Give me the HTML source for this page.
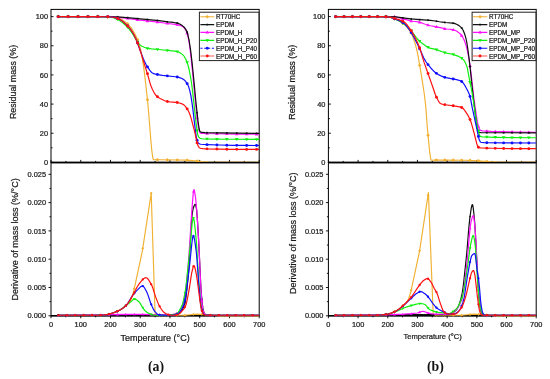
<!DOCTYPE html>
<html><head><meta charset="utf-8"><title>TGA / DTG</title>
<style>html,body{margin:0;padding:0;background:#fff;}svg{display:block;}</style>
</head><body>
<svg width="550" height="379" viewBox="0 0 550 379">
<rect width="550" height="379" fill="#fff"/>
<clipPath id="ctL"><rect x="51.00" y="9.40" width="208.20" height="153.00"/></clipPath>
<clipPath id="cbL"><rect x="51.00" y="162.40" width="208.20" height="154.90"/></clipPath>
<rect x="51.00" y="9.40" width="208.20" height="153.00" fill="none" stroke="#000" stroke-width="1"/>
<rect x="51.00" y="162.40" width="208.20" height="153.40" fill="none" stroke="#000" stroke-width="1"/>
<line x1="51.00" y1="162.50" x2="259.20" y2="162.50" stroke="#000" stroke-width="1.4"/>
<line x1="51.00" y1="315.80" x2="259.20" y2="315.80" stroke="#000" stroke-width="1.4"/>
<line x1="51.00" y1="162.40" x2="53.50" y2="162.40" stroke="#000" stroke-width="0.9"/>
<line x1="51.00" y1="147.82" x2="52.50" y2="147.82" stroke="#000" stroke-width="0.9"/>
<line x1="51.00" y1="133.24" x2="53.50" y2="133.24" stroke="#000" stroke-width="0.9"/>
<line x1="51.00" y1="118.66" x2="52.50" y2="118.66" stroke="#000" stroke-width="0.9"/>
<line x1="51.00" y1="104.08" x2="53.50" y2="104.08" stroke="#000" stroke-width="0.9"/>
<line x1="51.00" y1="89.50" x2="52.50" y2="89.50" stroke="#000" stroke-width="0.9"/>
<line x1="51.00" y1="74.92" x2="53.50" y2="74.92" stroke="#000" stroke-width="0.9"/>
<line x1="51.00" y1="60.34" x2="52.50" y2="60.34" stroke="#000" stroke-width="0.9"/>
<line x1="51.00" y1="45.76" x2="53.50" y2="45.76" stroke="#000" stroke-width="0.9"/>
<line x1="51.00" y1="31.18" x2="52.50" y2="31.18" stroke="#000" stroke-width="0.9"/>
<line x1="51.00" y1="16.60" x2="53.50" y2="16.60" stroke="#000" stroke-width="0.9"/>
<line x1="51.00" y1="162.40" x2="51.00" y2="159.90" stroke="#000" stroke-width="0.9"/>
<line x1="65.87" y1="162.40" x2="65.87" y2="160.90" stroke="#000" stroke-width="0.9"/>
<line x1="80.74" y1="162.40" x2="80.74" y2="159.90" stroke="#000" stroke-width="0.9"/>
<line x1="95.61" y1="162.40" x2="95.61" y2="160.90" stroke="#000" stroke-width="0.9"/>
<line x1="110.49" y1="162.40" x2="110.49" y2="159.90" stroke="#000" stroke-width="0.9"/>
<line x1="125.36" y1="162.40" x2="125.36" y2="160.90" stroke="#000" stroke-width="0.9"/>
<line x1="140.23" y1="162.40" x2="140.23" y2="159.90" stroke="#000" stroke-width="0.9"/>
<line x1="155.10" y1="162.40" x2="155.10" y2="160.90" stroke="#000" stroke-width="0.9"/>
<line x1="169.97" y1="162.40" x2="169.97" y2="159.90" stroke="#000" stroke-width="0.9"/>
<line x1="184.84" y1="162.40" x2="184.84" y2="160.90" stroke="#000" stroke-width="0.9"/>
<line x1="199.71" y1="162.40" x2="199.71" y2="159.90" stroke="#000" stroke-width="0.9"/>
<line x1="214.59" y1="162.40" x2="214.59" y2="160.90" stroke="#000" stroke-width="0.9"/>
<line x1="229.46" y1="162.40" x2="229.46" y2="159.90" stroke="#000" stroke-width="0.9"/>
<line x1="244.33" y1="162.40" x2="244.33" y2="160.90" stroke="#000" stroke-width="0.9"/>
<line x1="259.20" y1="162.40" x2="259.20" y2="159.90" stroke="#000" stroke-width="0.9"/>
<line x1="51.00" y1="315.80" x2="48.50" y2="315.80" stroke="#000" stroke-width="0.9"/>
<line x1="51.00" y1="301.65" x2="49.50" y2="301.65" stroke="#000" stroke-width="0.9"/>
<line x1="51.00" y1="287.50" x2="48.50" y2="287.50" stroke="#000" stroke-width="0.9"/>
<line x1="51.00" y1="273.35" x2="49.50" y2="273.35" stroke="#000" stroke-width="0.9"/>
<line x1="51.00" y1="259.20" x2="48.50" y2="259.20" stroke="#000" stroke-width="0.9"/>
<line x1="51.00" y1="245.05" x2="49.50" y2="245.05" stroke="#000" stroke-width="0.9"/>
<line x1="51.00" y1="230.90" x2="48.50" y2="230.90" stroke="#000" stroke-width="0.9"/>
<line x1="51.00" y1="216.75" x2="49.50" y2="216.75" stroke="#000" stroke-width="0.9"/>
<line x1="51.00" y1="202.60" x2="48.50" y2="202.60" stroke="#000" stroke-width="0.9"/>
<line x1="51.00" y1="188.45" x2="49.50" y2="188.45" stroke="#000" stroke-width="0.9"/>
<line x1="51.00" y1="174.30" x2="48.50" y2="174.30" stroke="#000" stroke-width="0.9"/>
<line x1="51.00" y1="315.80" x2="51.00" y2="318.30" stroke="#000" stroke-width="0.9"/>
<line x1="65.87" y1="315.80" x2="65.87" y2="317.30" stroke="#000" stroke-width="0.9"/>
<line x1="80.74" y1="315.80" x2="80.74" y2="318.30" stroke="#000" stroke-width="0.9"/>
<line x1="95.61" y1="315.80" x2="95.61" y2="317.30" stroke="#000" stroke-width="0.9"/>
<line x1="110.49" y1="315.80" x2="110.49" y2="318.30" stroke="#000" stroke-width="0.9"/>
<line x1="125.36" y1="315.80" x2="125.36" y2="317.30" stroke="#000" stroke-width="0.9"/>
<line x1="140.23" y1="315.80" x2="140.23" y2="318.30" stroke="#000" stroke-width="0.9"/>
<line x1="155.10" y1="315.80" x2="155.10" y2="317.30" stroke="#000" stroke-width="0.9"/>
<line x1="169.97" y1="315.80" x2="169.97" y2="318.30" stroke="#000" stroke-width="0.9"/>
<line x1="184.84" y1="315.80" x2="184.84" y2="317.30" stroke="#000" stroke-width="0.9"/>
<line x1="199.71" y1="315.80" x2="199.71" y2="318.30" stroke="#000" stroke-width="0.9"/>
<line x1="214.59" y1="315.80" x2="214.59" y2="317.30" stroke="#000" stroke-width="0.9"/>
<line x1="229.46" y1="315.80" x2="229.46" y2="318.30" stroke="#000" stroke-width="0.9"/>
<line x1="244.33" y1="315.80" x2="244.33" y2="317.30" stroke="#000" stroke-width="0.9"/>
<line x1="259.20" y1="315.80" x2="259.20" y2="318.30" stroke="#000" stroke-width="0.9"/>
<text x="48.00" y="165.00" text-anchor="end" font-size="7.4" fill="#1a1a1a" font-family="'Liberation Sans', Arial, sans-serif" stroke="#1a1a1a" stroke-width="0.22">0</text>
<text x="48.00" y="135.84" text-anchor="end" font-size="7.4" fill="#1a1a1a" font-family="'Liberation Sans', Arial, sans-serif" stroke="#1a1a1a" stroke-width="0.22">20</text>
<text x="48.00" y="106.68" text-anchor="end" font-size="7.4" fill="#1a1a1a" font-family="'Liberation Sans', Arial, sans-serif" stroke="#1a1a1a" stroke-width="0.22">40</text>
<text x="48.00" y="77.52" text-anchor="end" font-size="7.4" fill="#1a1a1a" font-family="'Liberation Sans', Arial, sans-serif" stroke="#1a1a1a" stroke-width="0.22">60</text>
<text x="48.00" y="48.36" text-anchor="end" font-size="7.4" fill="#1a1a1a" font-family="'Liberation Sans', Arial, sans-serif" stroke="#1a1a1a" stroke-width="0.22">80</text>
<text x="48.00" y="19.20" text-anchor="end" font-size="7.4" fill="#1a1a1a" font-family="'Liberation Sans', Arial, sans-serif" stroke="#1a1a1a" stroke-width="0.22">100</text>
<text x="46.00" y="318.40" text-anchor="end" font-size="7.4" fill="#1a1a1a" font-family="'Liberation Sans', Arial, sans-serif" stroke="#1a1a1a" stroke-width="0.22">0.000</text>
<text x="46.00" y="290.10" text-anchor="end" font-size="7.4" fill="#1a1a1a" font-family="'Liberation Sans', Arial, sans-serif" stroke="#1a1a1a" stroke-width="0.22">0.005</text>
<text x="46.00" y="261.80" text-anchor="end" font-size="7.4" fill="#1a1a1a" font-family="'Liberation Sans', Arial, sans-serif" stroke="#1a1a1a" stroke-width="0.22">0.010</text>
<text x="46.00" y="233.50" text-anchor="end" font-size="7.4" fill="#1a1a1a" font-family="'Liberation Sans', Arial, sans-serif" stroke="#1a1a1a" stroke-width="0.22">0.015</text>
<text x="46.00" y="205.20" text-anchor="end" font-size="7.4" fill="#1a1a1a" font-family="'Liberation Sans', Arial, sans-serif" stroke="#1a1a1a" stroke-width="0.22">0.020</text>
<text x="46.00" y="176.90" text-anchor="end" font-size="7.4" fill="#1a1a1a" font-family="'Liberation Sans', Arial, sans-serif" stroke="#1a1a1a" stroke-width="0.22">0.025</text>
<text x="51.00" y="326.90" text-anchor="middle" font-size="7.4" fill="#1a1a1a" font-family="'Liberation Sans', Arial, sans-serif" stroke="#1a1a1a" stroke-width="0.22">0</text>
<text x="80.74" y="326.90" text-anchor="middle" font-size="7.4" fill="#1a1a1a" font-family="'Liberation Sans', Arial, sans-serif" stroke="#1a1a1a" stroke-width="0.22">100</text>
<text x="110.49" y="326.90" text-anchor="middle" font-size="7.4" fill="#1a1a1a" font-family="'Liberation Sans', Arial, sans-serif" stroke="#1a1a1a" stroke-width="0.22">200</text>
<text x="140.23" y="326.90" text-anchor="middle" font-size="7.4" fill="#1a1a1a" font-family="'Liberation Sans', Arial, sans-serif" stroke="#1a1a1a" stroke-width="0.22">300</text>
<text x="169.97" y="326.90" text-anchor="middle" font-size="7.4" fill="#1a1a1a" font-family="'Liberation Sans', Arial, sans-serif" stroke="#1a1a1a" stroke-width="0.22">400</text>
<text x="199.71" y="326.90" text-anchor="middle" font-size="7.4" fill="#1a1a1a" font-family="'Liberation Sans', Arial, sans-serif" stroke="#1a1a1a" stroke-width="0.22">500</text>
<text x="229.46" y="326.90" text-anchor="middle" font-size="7.4" fill="#1a1a1a" font-family="'Liberation Sans', Arial, sans-serif" stroke="#1a1a1a" stroke-width="0.22">600</text>
<text x="259.20" y="326.90" text-anchor="middle" font-size="7.4" fill="#1a1a1a" font-family="'Liberation Sans', Arial, sans-serif" stroke="#1a1a1a" stroke-width="0.22">700</text>
<g clip-path="url(#ctL)"><path d="M58.44,16.60 96.64,16.60 105.54,16.66 111.57,16.79 113.58,16.99 115.88,17.35 118.46,17.90 119.90,18.43 121.91,19.51 124.21,21.10 127.37,23.64 128.80,25.03 130.81,27.42 132.82,30.20 134.55,33.05 135.98,35.89 137.42,39.22 138.86,43.23 140.01,47.11 140.87,50.66 141.73,55.05 142.88,61.90 143.74,67.66 144.89,76.67 147.76,102.47 148.62,112.23 150.92,141.26 151.78,150.32 152.64,156.77 152.93,158.16 153.22,159.12 153.50,159.59 155.23,159.71 159.54,159.80 178.49,159.96 185.67,160.10 192.57,160.66 205.20,161.96 208.08,162.16 213.25,162.34 217.27,162.40 259.20,162.40" fill="none" stroke="#F0B030" stroke-width="1.15" stroke-linejoin="round"/>
<path d="M58.20,14.80L60.00,16.60L58.20,18.40L56.40,16.60Z" fill="#F0B030"/>
<path d="M68.12,14.80L69.92,16.60L68.12,18.40L66.32,16.60Z" fill="#F0B030"/>
<path d="M78.04,14.80L79.84,16.60L78.04,18.40L76.24,16.60Z" fill="#F0B030"/>
<path d="M87.96,14.80L89.76,16.60L87.96,18.40L86.16,16.60Z" fill="#F0B030"/>
<path d="M97.87,14.80L99.67,16.60L97.87,18.40L96.07,16.60Z" fill="#F0B030"/>
<path d="M107.79,14.90L109.59,16.70L107.79,18.50L105.99,16.70Z" fill="#F0B030"/>
<path d="M117.71,15.92L119.51,17.72L117.71,19.52L115.91,17.72Z" fill="#F0B030"/>
<path d="M127.63,22.08L129.43,23.88L127.63,25.68L125.83,23.88Z" fill="#F0B030"/>
<path d="M137.55,37.76L139.35,39.56L137.55,41.36L135.75,39.56Z" fill="#F0B030"/>
<path d="M147.47,97.84L149.27,99.64L147.47,101.44L145.67,99.64Z" fill="#F0B030"/>
<path d="M157.39,157.96L159.19,159.76L157.39,161.56L155.59,159.76Z" fill="#F0B030"/>
<path d="M167.31,158.08L169.11,159.88L167.31,161.68L165.51,159.88Z" fill="#F0B030"/>
<path d="M177.23,158.15L179.03,159.95L177.23,161.75L175.43,159.95Z" fill="#F0B030"/>
<path d="M187.15,158.39L188.95,160.19L187.15,161.99L185.35,160.19Z" fill="#F0B030"/>
<path d="M197.07,159.32L198.87,161.12L197.07,162.92L195.27,161.12Z" fill="#F0B030"/>
<path d="M206.99,161.02L208.07,162.10L206.99,163.18L205.91,162.10Z" fill="#F0B030"/>
<path d="M216.91,161.32L217.99,162.40L216.91,163.48L215.83,162.40Z" fill="#F0B030"/>
<path d="M226.82,161.32L227.90,162.40L226.82,163.48L225.74,162.40Z" fill="#F0B030"/>
<path d="M236.74,161.32L237.82,162.40L236.74,163.48L235.66,162.40Z" fill="#F0B030"/>
<path d="M246.66,161.32L247.74,162.40L246.66,163.48L245.58,162.40Z" fill="#F0B030"/>
<path d="M256.58,161.32L257.66,162.40L256.58,163.48L255.50,162.40Z" fill="#F0B030"/>
<path d="M58.44,16.60 98.93,16.62 110.71,16.90 116.17,17.22 127.65,18.41 137.71,19.94 154.08,21.70 167.87,23.49 175.05,24.28 177.34,24.66 179.35,25.16 181.08,25.78 182.80,26.65 183.37,27.03 183.95,27.55 184.81,28.62 185.96,30.55 186.82,32.37 187.40,34.16 187.97,36.46 188.54,39.12 189.12,42.45 190.27,50.68 191.42,60.73 192.57,72.15 195.15,100.05 196.87,116.44 198.31,127.03 198.88,129.83 199.46,131.80 199.75,132.48 200.03,132.81 200.32,132.96 201.47,133.32 205.49,133.52 237.66,134.05 259.20,134.26" fill="none" stroke="#FF10FF" stroke-width="1.2" stroke-linejoin="round"/>
<path d="M58.20,14.80L60.00,17.80L56.40,17.80Z" fill="#FF10FF"/>
<path d="M68.12,14.80L69.92,17.80L66.32,17.80Z" fill="#FF10FF"/>
<path d="M78.04,14.80L79.84,17.80L76.24,17.80Z" fill="#FF10FF"/>
<path d="M87.96,14.80L89.76,17.80L86.16,17.80Z" fill="#FF10FF"/>
<path d="M97.87,14.81L99.67,17.81L96.07,17.81Z" fill="#FF10FF"/>
<path d="M107.79,15.01L109.59,18.01L105.99,18.01Z" fill="#FF10FF"/>
<path d="M117.71,15.55L119.51,18.55L115.91,18.55Z" fill="#FF10FF"/>
<path d="M127.63,16.61L129.43,19.61L125.83,19.61Z" fill="#FF10FF"/>
<path d="M137.55,18.12L139.35,21.12L135.75,21.12Z" fill="#FF10FF"/>
<path d="M147.47,19.15L149.27,22.15L145.67,22.15Z" fill="#FF10FF"/>
<path d="M157.39,20.29L159.19,23.29L155.59,23.29Z" fill="#FF10FF"/>
<path d="M167.31,21.62L169.11,24.62L165.51,24.62Z" fill="#FF10FF"/>
<path d="M177.23,22.84L179.03,25.84L175.43,25.84Z" fill="#FF10FF"/>
<path d="M187.15,31.52L188.95,34.52L185.35,34.52Z" fill="#FF10FF"/>
<path d="M197.07,116.24L198.87,119.24L195.27,119.24Z" fill="#FF10FF"/>
<path d="M206.99,131.76L208.79,134.76L205.19,134.76Z" fill="#FF10FF"/>
<path d="M216.91,131.92L218.71,134.92L215.11,134.92Z" fill="#FF10FF"/>
<path d="M226.82,132.09L228.62,135.09L225.02,135.09Z" fill="#FF10FF"/>
<path d="M236.74,132.24L238.54,135.24L234.94,135.24Z" fill="#FF10FF"/>
<path d="M246.66,132.36L248.46,135.36L244.86,135.36Z" fill="#FF10FF"/>
<path d="M256.58,132.45L258.38,135.45L254.78,135.45Z" fill="#FF10FF"/>
<path d="M58.44,16.60 102.09,16.63 112.72,16.80 120.76,17.19 129.95,17.85 150.92,19.83 158.96,20.68 167.87,21.88 173.61,22.47 175.91,22.79 177.34,23.07 178.20,23.32 180.22,24.26 182.23,25.59 183.95,27.01 185.10,28.35 186.25,30.16 186.82,31.32 187.11,32.09 187.68,34.04 188.54,37.60 189.12,40.52 190.56,49.78 191.99,61.89 193.43,75.84 196.01,102.81 198.02,120.99 198.60,125.35 199.17,128.53 199.75,130.97 200.03,131.51 200.90,132.15 201.76,132.47 205.20,132.65 237.66,133.18 259.20,133.39" fill="none" stroke="#111111" stroke-width="1.2" stroke-linejoin="round"/>
<rect x="57.35" y="15.75" width="1.70" height="1.70" fill="#111111"/>
<rect x="67.27" y="15.75" width="1.70" height="1.70" fill="#111111"/>
<rect x="77.19" y="15.75" width="1.70" height="1.70" fill="#111111"/>
<rect x="87.11" y="15.75" width="1.70" height="1.70" fill="#111111"/>
<rect x="97.02" y="15.75" width="1.70" height="1.70" fill="#111111"/>
<rect x="106.94" y="15.85" width="1.70" height="1.70" fill="#111111"/>
<rect x="116.86" y="16.16" width="1.70" height="1.70" fill="#111111"/>
<rect x="126.78" y="16.81" width="1.70" height="1.70" fill="#111111"/>
<rect x="136.70" y="17.76" width="1.70" height="1.70" fill="#111111"/>
<rect x="146.62" y="18.65" width="1.70" height="1.70" fill="#111111"/>
<rect x="156.54" y="19.65" width="1.70" height="1.70" fill="#111111"/>
<rect x="166.46" y="20.96" width="1.70" height="1.70" fill="#111111"/>
<rect x="176.38" y="22.19" width="1.70" height="1.70" fill="#111111"/>
<rect x="186.30" y="31.36" width="1.70" height="1.70" fill="#111111"/>
<rect x="196.22" y="111.84" width="1.70" height="1.70" fill="#111111"/>
<rect x="206.14" y="131.84" width="1.70" height="1.70" fill="#111111"/>
<rect x="216.06" y="131.99" width="1.70" height="1.70" fill="#111111"/>
<rect x="225.97" y="132.16" width="1.70" height="1.70" fill="#111111"/>
<rect x="235.89" y="132.31" width="1.70" height="1.70" fill="#111111"/>
<rect x="245.81" y="132.44" width="1.70" height="1.70" fill="#111111"/>
<rect x="255.73" y="132.52" width="1.70" height="1.70" fill="#111111"/>
<path d="M58.44,16.60 99.22,16.64 104.68,16.82 110.13,17.16 111.57,17.32 113.01,17.67 114.73,18.27 116.74,19.12 118.75,20.07 120.19,20.92 121.62,21.92 123.35,23.30 127.08,26.75 128.23,27.96 129.38,29.34 131.96,32.88 133.40,35.11 135.98,39.63 138.57,43.44 139.14,44.12 140.01,44.90 140.87,45.52 142.02,46.20 145.46,47.75 146.61,48.14 147.76,48.40 151.49,48.90 158.67,49.52 174.47,51.14 176.48,51.46 177.92,51.81 179.07,52.27 180.22,52.90 181.94,54.13 183.37,55.41 184.24,56.50 185.10,57.92 186.25,60.29 187.40,63.14 188.26,65.99 189.12,69.59 190.56,77.00 191.70,84.17 192.57,91.41 195.73,120.35 197.16,131.01 197.74,134.44 198.02,135.62 198.60,136.80 199.17,137.57 199.75,138.07 200.32,138.31 201.47,138.63 202.62,138.78 214.68,139.05 227.61,139.23 259.20,139.36" fill="none" stroke="#10F010" stroke-width="1.2" stroke-linejoin="round"/>
<path d="M58.20,18.40L60.00,15.40L56.40,15.40Z" fill="#10F010"/>
<path d="M68.12,18.40L69.92,15.40L66.32,15.40Z" fill="#10F010"/>
<path d="M78.04,18.40L79.84,15.40L76.24,15.40Z" fill="#10F010"/>
<path d="M87.96,18.40L89.76,15.40L86.16,15.40Z" fill="#10F010"/>
<path d="M97.87,18.41L99.67,15.41L96.07,15.41Z" fill="#10F010"/>
<path d="M107.79,18.79L109.59,15.79L105.99,15.79Z" fill="#10F010"/>
<path d="M117.71,21.37L119.51,18.37L115.91,18.37Z" fill="#10F010"/>
<path d="M127.63,29.11L129.43,26.11L125.83,26.11Z" fill="#10F010"/>
<path d="M137.55,43.82L139.35,40.82L135.75,40.82Z" fill="#10F010"/>
<path d="M147.47,50.15L149.27,47.15L145.67,47.15Z" fill="#10F010"/>
<path d="M157.39,51.20L159.19,48.20L155.59,48.20Z" fill="#10F010"/>
<path d="M167.31,52.19L169.11,49.19L165.51,49.19Z" fill="#10F010"/>
<path d="M177.23,53.42L179.03,50.42L175.43,50.42Z" fill="#10F010"/>
<path d="M187.15,64.28L188.95,61.28L185.35,61.28Z" fill="#10F010"/>
<path d="M197.07,132.16L198.87,129.16L195.27,129.16Z" fill="#10F010"/>
<path d="M206.99,140.69L208.79,137.69L205.19,137.69Z" fill="#10F010"/>
<path d="M216.91,140.89L218.71,137.89L215.11,137.89Z" fill="#10F010"/>
<path d="M226.82,141.02L228.62,138.02L225.02,138.02Z" fill="#10F010"/>
<path d="M236.74,141.11L238.54,138.11L234.94,138.11Z" fill="#10F010"/>
<path d="M246.66,141.15L248.46,138.15L244.86,138.15Z" fill="#10F010"/>
<path d="M256.58,141.16L258.38,138.16L254.78,138.16Z" fill="#10F010"/>
<path d="M58.44,16.60 98.07,16.61 105.25,16.72 111.28,16.95 113.01,17.21 114.73,17.62 117.32,18.43 119.04,19.10 120.47,19.88 121.91,20.84 123.63,22.18 125.36,23.69 127.94,26.15 129.67,28.16 131.96,31.37 133.69,34.26 135.41,37.77 136.85,41.12 139.43,48.47 141.44,53.88 143.16,58.33 144.31,61.00 146.04,64.44 147.47,66.89 150.06,70.69 151.49,72.36 152.36,72.99 153.79,73.61 155.51,74.14 157.81,74.64 162.41,75.33 175.33,76.77 177.63,77.15 179.64,77.66 181.94,78.55 183.09,79.14 183.95,79.69 184.52,80.18 185.39,81.09 186.82,83.10 187.97,85.13 188.83,87.32 189.69,90.37 190.84,95.44 191.42,98.80 192.57,106.92 195.44,130.92 196.30,137.09 196.87,139.56 197.74,142.23 198.02,142.77 198.31,143.08 198.88,143.51 200.03,144.04 201.18,144.26 203.77,144.52 207.21,144.66 219.85,145.02 232.78,145.28 245.99,145.44 259.20,145.49" fill="none" stroke="#1010FF" stroke-width="1.2" stroke-linejoin="round"/>
<circle cx="58.20" cy="16.60" r="1.45" fill="#1010FF"/>
<circle cx="68.12" cy="16.60" r="1.45" fill="#1010FF"/>
<circle cx="78.04" cy="16.60" r="1.45" fill="#1010FF"/>
<circle cx="87.96" cy="16.60" r="1.45" fill="#1010FF"/>
<circle cx="97.87" cy="16.61" r="1.45" fill="#1010FF"/>
<circle cx="107.79" cy="16.79" r="1.45" fill="#1010FF"/>
<circle cx="117.71" cy="18.57" r="1.45" fill="#1010FF"/>
<circle cx="127.63" cy="25.83" r="1.45" fill="#1010FF"/>
<circle cx="137.55" cy="43.03" r="1.45" fill="#1010FF"/>
<circle cx="147.47" cy="66.89" r="1.45" fill="#1010FF"/>
<circle cx="157.39" cy="74.55" r="1.45" fill="#1010FF"/>
<circle cx="167.31" cy="75.91" r="1.45" fill="#1010FF"/>
<circle cx="177.23" cy="77.07" r="1.45" fill="#1010FF"/>
<circle cx="187.15" cy="83.64" r="1.45" fill="#1010FF"/>
<circle cx="197.07" cy="140.26" r="1.45" fill="#1010FF"/>
<circle cx="206.99" cy="144.66" r="1.45" fill="#1010FF"/>
<circle cx="216.91" cy="144.95" r="1.45" fill="#1010FF"/>
<circle cx="226.82" cy="145.18" r="1.45" fill="#1010FF"/>
<circle cx="236.74" cy="145.34" r="1.45" fill="#1010FF"/>
<circle cx="246.66" cy="145.44" r="1.45" fill="#1010FF"/>
<circle cx="256.58" cy="145.49" r="1.45" fill="#1010FF"/>
<path d="M58.44,16.60 98.36,16.61 106.11,16.74 111.57,16.98 113.29,17.26 115.30,17.78 118.18,18.73 119.33,19.25 120.76,20.09 122.20,21.11 123.92,22.52 125.64,24.08 127.65,26.00 129.09,27.56 130.53,29.36 131.96,31.39 133.11,33.22 133.97,34.80 135.12,37.15 136.56,40.39 138.28,44.90 140.58,51.70 143.16,60.22 147.47,73.81 149.77,82.16 150.63,84.97 151.21,86.52 152.36,89.15 153.50,91.52 154.37,93.09 155.23,94.45 156.09,95.55 156.95,96.39 157.81,97.08 158.96,97.85 160.11,98.50 164.71,100.73 166.14,101.25 167.87,101.60 170.16,101.88 175.91,102.36 177.63,102.61 179.35,102.97 181.36,103.61 183.37,104.53 184.24,105.16 185.10,106.06 186.53,107.98 187.97,110.22 189.12,112.55 190.27,115.46 191.42,119.39 194.58,131.45 195.44,135.09 196.59,140.87 197.16,143.24 198.31,146.31 198.88,147.30 199.46,147.76 200.32,148.22 201.18,148.50 203.19,148.72 205.49,148.84 231.05,149.28 259.20,149.42" fill="none" stroke="#FF1010" stroke-width="1.2" stroke-linejoin="round"/>
<circle cx="58.20" cy="16.60" r="1.45" fill="#FF1010"/>
<circle cx="68.12" cy="16.60" r="1.45" fill="#FF1010"/>
<circle cx="78.04" cy="16.60" r="1.45" fill="#FF1010"/>
<circle cx="87.96" cy="16.60" r="1.45" fill="#FF1010"/>
<circle cx="97.87" cy="16.61" r="1.45" fill="#FF1010"/>
<circle cx="107.79" cy="16.79" r="1.45" fill="#FF1010"/>
<circle cx="117.71" cy="18.57" r="1.45" fill="#FF1010"/>
<circle cx="127.63" cy="25.98" r="1.45" fill="#FF1010"/>
<circle cx="137.55" cy="42.90" r="1.45" fill="#FF1010"/>
<circle cx="147.47" cy="73.81" r="1.45" fill="#FF1010"/>
<circle cx="157.39" cy="96.75" r="1.45" fill="#FF1010"/>
<circle cx="167.31" cy="101.51" r="1.45" fill="#FF1010"/>
<circle cx="177.23" cy="102.54" r="1.45" fill="#FF1010"/>
<circle cx="187.15" cy="108.89" r="1.45" fill="#FF1010"/>
<circle cx="197.07" cy="142.91" r="1.45" fill="#FF1010"/>
<circle cx="206.99" cy="148.87" r="1.45" fill="#FF1010"/>
<circle cx="216.91" cy="149.07" r="1.45" fill="#FF1010"/>
<circle cx="226.82" cy="149.23" r="1.45" fill="#FF1010"/>
<circle cx="236.74" cy="149.33" r="1.45" fill="#FF1010"/>
<circle cx="246.66" cy="149.40" r="1.45" fill="#FF1010"/>
<circle cx="256.58" cy="149.42" r="1.45" fill="#FF1010"/></g>
<g clip-path="url(#cbL)"><path d="M58.44,315.23 96.92,315.23 103.53,314.99 105.54,314.86 106.98,314.65 109.56,314.02 113.87,312.70 116.74,311.55 119.61,310.15 122.20,308.53 124.78,306.58 127.65,304.15 128.52,303.29 129.38,302.27 130.24,300.96 131.39,298.46 132.54,295.22 133.69,291.46 142.30,251.31 151.21,193.15 154.94,309.10 155.23,314.15 158.10,315.23 184.81,315.23 196.87,314.11 205.78,314.68 217.55,315.80 259.20,315.80" fill="none" stroke="#F0B030" stroke-width="1.15" stroke-linejoin="round"/>
<path d="M58.29,313.79L59.73,315.23L58.29,316.67L56.85,315.23Z" fill="#F0B030"/>
<path d="M66.73,313.79L68.17,315.23L66.73,316.67L65.29,315.23Z" fill="#F0B030"/>
<path d="M75.18,313.79L76.62,315.23L75.18,316.67L73.74,315.23Z" fill="#F0B030"/>
<path d="M83.63,313.79L85.07,315.23L83.63,316.67L82.19,315.23Z" fill="#F0B030"/>
<path d="M92.07,313.79L93.51,315.23L92.07,316.67L90.63,315.23Z" fill="#F0B030"/>
<path d="M100.52,313.70L101.96,315.14L100.52,316.58L99.08,315.14Z" fill="#F0B030"/>
<path d="M108.97,312.75L110.41,314.19L108.97,315.63L107.53,314.19Z" fill="#F0B030"/>
<path d="M117.42,309.81L118.86,311.25L117.42,312.69L115.98,311.25Z" fill="#F0B030"/>
<path d="M125.86,304.25L127.30,305.69L125.86,307.13L124.42,305.69Z" fill="#F0B030"/>
<path d="M134.31,287.11L135.75,288.55L134.31,289.99L132.87,288.55Z" fill="#F0B030"/>
<path d="M142.76,246.92L144.20,248.36L142.76,249.80L141.32,248.36Z" fill="#F0B030"/>
<path d="M151.20,191.73L152.64,193.17L151.20,194.61L149.76,193.17Z" fill="#F0B030"/>
<path d="M159.65,313.79L161.09,315.23L159.65,316.67L158.21,315.23Z" fill="#F0B030"/>
<path d="M168.10,313.79L169.54,315.23L168.10,316.67L166.66,315.23Z" fill="#F0B030"/>
<path d="M176.54,313.79L177.98,315.23L176.54,316.67L175.10,315.23Z" fill="#F0B030"/>
<path d="M184.99,313.78L186.43,315.22L184.99,316.66L183.55,315.22Z" fill="#F0B030"/>
<path d="M193.44,312.98L194.88,314.42L193.44,315.86L192.00,314.42Z" fill="#F0B030"/>
<path d="M201.89,312.99L203.33,314.43L201.89,315.87L200.45,314.43Z" fill="#F0B030"/>
<path d="M210.33,313.67L211.77,315.11L210.33,316.55L208.89,315.11Z" fill="#F0B030"/>
<path d="M218.78,314.36L220.22,315.80L218.78,317.24L217.34,315.80Z" fill="#F0B030"/>
<path d="M227.23,314.36L228.67,315.80L227.23,317.24L225.79,315.80Z" fill="#F0B030"/>
<path d="M235.67,314.36L237.11,315.80L235.67,317.24L234.23,315.80Z" fill="#F0B030"/>
<path d="M244.12,314.36L245.56,315.80L244.12,317.24L242.68,315.80Z" fill="#F0B030"/>
<path d="M252.57,314.36L254.01,315.80L252.57,317.24L251.13,315.80Z" fill="#F0B030"/>
<path d="M58.44,315.23 170.45,315.23 173.04,315.02 175.62,314.53 178.78,313.58 179.35,313.32 179.93,312.91 180.79,312.01 181.65,310.78 182.51,309.21 183.66,306.61 184.52,304.29 185.10,302.44 185.39,301.10 185.96,297.53 187.11,287.51 188.54,271.75 189.12,263.19 191.42,223.87 191.99,215.95 192.57,211.62 193.14,208.62 193.43,207.51 193.71,206.68 194.29,205.45 194.86,204.55 195.15,204.33 195.44,204.38 195.73,205.10 196.30,207.98 196.59,209.84 197.16,216.35 198.02,229.54 198.60,239.97 200.90,287.61 201.47,295.11 202.33,303.83 202.91,308.19 203.48,310.97 204.05,312.46 204.63,313.62 205.20,314.40 205.49,314.61 205.78,314.69 208.08,315.05 210.66,315.22 259.20,315.23" fill="none" stroke="#111111" stroke-width="1.2" stroke-linejoin="round"/>
<rect x="57.61" y="314.55" width="1.36" height="1.36" fill="#111111"/>
<rect x="66.05" y="314.55" width="1.36" height="1.36" fill="#111111"/>
<rect x="74.50" y="314.55" width="1.36" height="1.36" fill="#111111"/>
<rect x="82.95" y="314.55" width="1.36" height="1.36" fill="#111111"/>
<rect x="91.39" y="314.55" width="1.36" height="1.36" fill="#111111"/>
<rect x="99.84" y="314.55" width="1.36" height="1.36" fill="#111111"/>
<rect x="108.29" y="314.55" width="1.36" height="1.36" fill="#111111"/>
<rect x="116.74" y="314.55" width="1.36" height="1.36" fill="#111111"/>
<rect x="125.18" y="314.55" width="1.36" height="1.36" fill="#111111"/>
<rect x="133.63" y="314.55" width="1.36" height="1.36" fill="#111111"/>
<rect x="142.08" y="314.55" width="1.36" height="1.36" fill="#111111"/>
<rect x="150.52" y="314.55" width="1.36" height="1.36" fill="#111111"/>
<rect x="158.97" y="314.55" width="1.36" height="1.36" fill="#111111"/>
<rect x="167.42" y="314.55" width="1.36" height="1.36" fill="#111111"/>
<rect x="175.86" y="313.61" width="1.36" height="1.36" fill="#111111"/>
<rect x="184.31" y="302.17" width="1.36" height="1.36" fill="#111111"/>
<rect x="192.76" y="206.80" width="1.36" height="1.36" fill="#111111"/>
<rect x="201.21" y="298.91" width="1.36" height="1.36" fill="#111111"/>
<rect x="209.65" y="314.53" width="1.36" height="1.36" fill="#111111"/>
<rect x="218.10" y="314.55" width="1.36" height="1.36" fill="#111111"/>
<rect x="226.55" y="314.55" width="1.36" height="1.36" fill="#111111"/>
<rect x="234.99" y="314.55" width="1.36" height="1.36" fill="#111111"/>
<rect x="243.44" y="314.55" width="1.36" height="1.36" fill="#111111"/>
<rect x="251.89" y="314.55" width="1.36" height="1.36" fill="#111111"/>
<path d="M58.44,315.23 95.77,314.86 126.79,314.39 141.73,314.39 154.37,314.67 170.45,314.66 172.75,314.42 175.33,313.76 177.92,312.68 179.35,311.92 179.93,311.47 180.50,310.68 181.36,308.88 182.23,306.43 183.09,303.43 184.24,298.73 185.10,294.67 185.96,288.54 187.40,274.64 188.26,264.57 189.98,239.91 191.70,212.08 192.85,197.60 193.43,191.72 193.71,190.04 194.00,189.60 194.29,190.23 194.58,191.55 195.44,197.07 195.73,199.38 196.59,208.22 197.16,215.94 198.60,240.13 199.46,257.21 200.61,282.99 201.18,292.92 202.04,302.84 202.62,307.93 202.91,309.76 203.19,311.01 204.05,312.95 204.92,314.20 205.49,314.62 207.50,314.98 210.09,315.20 259.20,315.23" fill="none" stroke="#FF10FF" stroke-width="1.2" stroke-linejoin="round"/>
<path d="M58.29,313.80L59.73,316.20L56.85,316.20Z" fill="#FF10FF"/>
<path d="M66.73,313.73L68.17,316.13L65.29,316.13Z" fill="#FF10FF"/>
<path d="M75.18,313.65L76.62,316.05L73.74,316.05Z" fill="#FF10FF"/>
<path d="M83.63,313.56L85.07,315.96L82.19,315.96Z" fill="#FF10FF"/>
<path d="M92.07,313.46L93.51,315.86L90.63,315.86Z" fill="#FF10FF"/>
<path d="M100.52,313.36L101.96,315.76L99.08,315.76Z" fill="#FF10FF"/>
<path d="M108.97,313.25L110.41,315.65L107.53,315.65Z" fill="#FF10FF"/>
<path d="M117.42,313.10L118.86,315.50L115.98,315.50Z" fill="#FF10FF"/>
<path d="M125.86,312.96L127.30,315.36L124.42,315.36Z" fill="#FF10FF"/>
<path d="M134.31,312.94L135.75,315.34L132.87,315.34Z" fill="#FF10FF"/>
<path d="M142.76,312.97L144.20,315.37L141.32,315.37Z" fill="#FF10FF"/>
<path d="M151.20,313.18L152.64,315.58L149.76,315.58Z" fill="#FF10FF"/>
<path d="M159.65,313.23L161.09,315.63L158.21,315.63Z" fill="#FF10FF"/>
<path d="M168.10,313.23L169.54,315.63L166.66,315.63Z" fill="#FF10FF"/>
<path d="M176.54,311.86L177.98,314.26L175.10,314.26Z" fill="#FF10FF"/>
<path d="M184.99,293.82L186.43,296.22L183.55,296.22Z" fill="#FF10FF"/>
<path d="M193.44,190.19L194.88,192.59L192.00,192.59Z" fill="#FF10FF"/>
<path d="M201.89,299.74L203.33,302.14L200.45,302.14Z" fill="#FF10FF"/>
<path d="M210.33,313.77L211.77,316.17L208.89,316.17Z" fill="#FF10FF"/>
<path d="M218.78,313.79L220.22,316.19L217.34,316.19Z" fill="#FF10FF"/>
<path d="M227.23,313.79L228.67,316.19L225.79,316.19Z" fill="#FF10FF"/>
<path d="M235.67,313.79L237.11,316.19L234.23,316.19Z" fill="#FF10FF"/>
<path d="M244.12,313.79L245.56,316.19L242.68,316.19Z" fill="#FF10FF"/>
<path d="M252.57,313.79L254.01,316.19L251.13,316.19Z" fill="#FF10FF"/>
<path d="M58.44,315.23 97.21,315.22 100.94,315.12 105.25,314.89 107.55,314.54 110.42,313.77 114.44,312.49 117.32,311.29 119.90,309.98 122.20,308.45 126.79,304.96 131.10,301.48 133.11,299.57 133.69,299.18 134.26,299.00 135.12,299.10 136.27,299.62 137.42,300.45 138.86,301.67 140.01,303.16 142.30,306.99 143.74,309.08 144.60,310.20 145.46,311.03 146.90,312.21 148.33,313.13 150.06,313.94 151.78,314.63 152.93,314.96 154.08,315.12 162.12,315.23 167.00,315.17 170.45,314.92 173.90,314.46 176.19,314.03 177.06,313.53 178.20,312.34 179.35,310.62 180.79,307.92 182.23,304.73 182.80,302.94 183.66,299.53 185.10,292.26 185.67,288.35 186.53,281.20 189.41,253.74 191.99,224.83 192.57,220.40 192.85,218.93 193.14,218.08 193.43,217.91 193.71,218.46 194.00,219.64 194.58,223.54 195.15,228.88 196.30,241.12 196.87,249.29 198.60,278.77 200.32,300.46 200.90,305.54 201.18,307.22 202.33,311.72 202.91,313.23 203.19,313.73 203.48,314.04 203.77,314.19 205.49,314.81 206.93,315.11 208.36,315.23 259.20,315.23" fill="none" stroke="#10F010" stroke-width="1.2" stroke-linejoin="round"/>
<path d="M58.29,316.67L59.73,314.27L56.85,314.27Z" fill="#10F010"/>
<path d="M66.73,316.67L68.17,314.27L65.29,314.27Z" fill="#10F010"/>
<path d="M75.18,316.67L76.62,314.27L73.74,314.27Z" fill="#10F010"/>
<path d="M83.63,316.67L85.07,314.27L82.19,314.27Z" fill="#10F010"/>
<path d="M92.07,316.67L93.51,314.27L90.63,314.27Z" fill="#10F010"/>
<path d="M100.52,316.58L101.96,314.18L99.08,314.18Z" fill="#10F010"/>
<path d="M108.97,315.63L110.41,313.23L107.53,313.23Z" fill="#10F010"/>
<path d="M117.42,312.69L118.86,310.29L115.98,310.29Z" fill="#10F010"/>
<path d="M125.86,307.12L127.30,304.72L124.42,304.72Z" fill="#10F010"/>
<path d="M134.31,300.43L135.75,298.03L132.87,298.03Z" fill="#10F010"/>
<path d="M142.76,309.10L144.20,306.70L141.32,306.70Z" fill="#10F010"/>
<path d="M151.20,315.85L152.64,313.45L149.76,313.45Z" fill="#10F010"/>
<path d="M159.65,316.65L161.09,314.25L158.21,314.25Z" fill="#10F010"/>
<path d="M168.10,316.55L169.54,314.15L166.66,314.15Z" fill="#10F010"/>
<path d="M176.54,315.31L177.98,312.91L175.10,312.91Z" fill="#10F010"/>
<path d="M184.99,294.34L186.43,291.94L183.55,291.94Z" fill="#10F010"/>
<path d="M193.44,219.36L194.88,216.96L192.00,216.96Z" fill="#10F010"/>
<path d="M201.89,311.61L203.33,309.21L200.45,309.21Z" fill="#10F010"/>
<path d="M210.33,316.67L211.77,314.27L208.89,314.27Z" fill="#10F010"/>
<path d="M218.78,316.67L220.22,314.27L217.34,314.27Z" fill="#10F010"/>
<path d="M227.23,316.67L228.67,314.27L225.79,314.27Z" fill="#10F010"/>
<path d="M235.67,316.67L237.11,314.27L234.23,314.27Z" fill="#10F010"/>
<path d="M244.12,316.67L245.56,314.27L242.68,314.27Z" fill="#10F010"/>
<path d="M252.57,316.67L254.01,314.27L251.13,314.27Z" fill="#10F010"/>
<path d="M58.44,315.23 96.06,315.23 101.52,315.09 105.25,314.89 106.98,314.65 109.27,314.10 113.58,312.80 117.03,311.43 120.47,309.68 123.06,308.02 124.50,306.91 125.64,305.90 126.51,305.02 127.65,303.49 131.96,296.32 132.82,295.09 134.26,293.32 135.98,291.41 140.29,287.11 141.44,286.31 142.02,286.09 142.59,286.03 142.88,286.10 143.45,286.47 144.31,287.51 145.18,288.96 146.90,292.27 148.05,295.15 150.63,303.00 152.36,307.01 153.50,309.40 154.37,310.88 154.94,311.66 156.38,313.18 157.24,313.97 158.39,314.72 159.25,314.95 164.42,315.17 170.16,315.23 172.17,315.13 174.18,314.85 176.48,314.35 177.92,313.89 178.78,313.25 179.93,311.96 181.08,310.30 182.23,308.36 182.80,307.09 183.66,304.71 184.52,301.76 185.10,299.41 185.67,296.29 186.53,290.36 189.41,266.89 191.99,242.01 192.57,238.17 192.85,236.90 193.14,236.16 193.43,236.01 193.71,236.37 194.00,237.15 194.58,239.75 195.15,243.37 196.30,251.97 196.87,258.21 198.60,282.08 200.03,298.14 200.61,303.52 201.18,307.22 201.76,309.63 202.62,312.53 203.19,313.73 203.48,314.04 203.77,314.19 205.20,314.72 206.64,315.06 208.36,315.23 259.20,315.23" fill="none" stroke="#1010FF" stroke-width="1.2" stroke-linejoin="round"/>
<circle cx="58.29" cy="315.23" r="1.16" fill="#1010FF"/>
<circle cx="66.73" cy="315.23" r="1.16" fill="#1010FF"/>
<circle cx="75.18" cy="315.23" r="1.16" fill="#1010FF"/>
<circle cx="83.63" cy="315.23" r="1.16" fill="#1010FF"/>
<circle cx="92.07" cy="315.23" r="1.16" fill="#1010FF"/>
<circle cx="100.52" cy="315.14" r="1.16" fill="#1010FF"/>
<circle cx="108.97" cy="314.19" r="1.16" fill="#1010FF"/>
<circle cx="117.42" cy="311.25" r="1.16" fill="#1010FF"/>
<circle cx="125.86" cy="305.70" r="1.16" fill="#1010FF"/>
<circle cx="134.31" cy="293.26" r="1.16" fill="#1010FF"/>
<circle cx="142.76" cy="286.06" r="1.16" fill="#1010FF"/>
<circle cx="151.20" cy="304.40" r="1.16" fill="#1010FF"/>
<circle cx="159.65" cy="314.97" r="1.16" fill="#1010FF"/>
<circle cx="168.10" cy="315.23" r="1.16" fill="#1010FF"/>
<circle cx="176.54" cy="314.34" r="1.16" fill="#1010FF"/>
<circle cx="184.99" cy="299.89" r="1.16" fill="#1010FF"/>
<circle cx="193.44" cy="236.02" r="1.16" fill="#1010FF"/>
<circle cx="201.89" cy="310.13" r="1.16" fill="#1010FF"/>
<circle cx="210.33" cy="315.23" r="1.16" fill="#1010FF"/>
<circle cx="218.78" cy="315.23" r="1.16" fill="#1010FF"/>
<circle cx="227.23" cy="315.23" r="1.16" fill="#1010FF"/>
<circle cx="235.67" cy="315.23" r="1.16" fill="#1010FF"/>
<circle cx="244.12" cy="315.23" r="1.16" fill="#1010FF"/>
<circle cx="252.57" cy="315.23" r="1.16" fill="#1010FF"/>
<path d="M58.44,315.23 96.35,315.23 100.08,315.15 104.39,314.94 106.69,314.71 108.99,314.18 113.29,312.89 116.45,311.68 119.61,310.16 122.48,308.43 124.78,306.67 125.93,305.63 126.79,304.71 128.23,302.80 130.24,299.59 133.69,293.66 137.13,287.03 138.57,284.70 140.87,281.58 142.59,279.61 143.45,278.87 144.03,278.48 145.18,277.87 145.75,277.71 146.32,277.77 146.90,278.05 147.47,278.50 148.33,279.48 149.77,281.70 151.78,285.37 152.36,286.68 152.93,288.31 155.51,296.64 158.10,303.14 159.25,305.64 160.11,307.23 161.55,309.51 162.98,311.41 163.84,312.26 165.57,313.51 167.00,314.29 168.15,314.66 170.74,315.09 173.04,315.23 175.33,315.05 177.06,314.74 177.92,314.51 178.78,314.05 179.93,313.16 181.94,311.20 183.09,309.96 183.95,308.82 184.81,307.42 185.39,306.29 185.96,304.79 186.53,302.72 187.40,298.82 189.41,288.07 191.13,276.32 191.70,272.92 193.14,267.10 193.43,266.32 193.71,265.84 194.00,265.72 194.29,266.00 194.86,267.57 195.44,269.99 196.59,275.71 197.45,281.68 200.32,303.48 200.90,307.05 201.47,309.46 202.33,312.31 202.91,313.62 203.19,314.02 203.48,314.26 204.63,314.99 205.20,315.18 205.78,315.23 259.20,315.23" fill="none" stroke="#FF1010" stroke-width="1.2" stroke-linejoin="round"/>
<circle cx="58.29" cy="315.23" r="1.16" fill="#FF1010"/>
<circle cx="66.73" cy="315.23" r="1.16" fill="#FF1010"/>
<circle cx="75.18" cy="315.23" r="1.16" fill="#FF1010"/>
<circle cx="83.63" cy="315.23" r="1.16" fill="#FF1010"/>
<circle cx="92.07" cy="315.23" r="1.16" fill="#FF1010"/>
<circle cx="100.52" cy="315.14" r="1.16" fill="#FF1010"/>
<circle cx="108.97" cy="314.19" r="1.16" fill="#FF1010"/>
<circle cx="117.42" cy="311.25" r="1.16" fill="#FF1010"/>
<circle cx="125.86" cy="305.70" r="1.16" fill="#FF1010"/>
<circle cx="134.31" cy="292.49" r="1.16" fill="#FF1010"/>
<circle cx="142.76" cy="279.46" r="1.16" fill="#FF1010"/>
<circle cx="151.20" cy="284.30" r="1.16" fill="#FF1010"/>
<circle cx="159.65" cy="306.42" r="1.16" fill="#FF1010"/>
<circle cx="168.10" cy="314.65" r="1.16" fill="#FF1010"/>
<circle cx="176.54" cy="314.85" r="1.16" fill="#FF1010"/>
<circle cx="184.99" cy="307.08" r="1.16" fill="#FF1010"/>
<circle cx="193.44" cy="266.30" r="1.16" fill="#FF1010"/>
<circle cx="201.89" cy="310.94" r="1.16" fill="#FF1010"/>
<circle cx="210.33" cy="315.23" r="1.16" fill="#FF1010"/>
<circle cx="218.78" cy="315.23" r="1.16" fill="#FF1010"/>
<circle cx="227.23" cy="315.23" r="1.16" fill="#FF1010"/>
<circle cx="235.67" cy="315.23" r="1.16" fill="#FF1010"/>
<circle cx="244.12" cy="315.23" r="1.16" fill="#FF1010"/>
<circle cx="252.57" cy="315.23" r="1.16" fill="#FF1010"/></g>
<line x1="51.00" y1="162.50" x2="259.20" y2="162.50" stroke="#000" stroke-width="1.25"/>
<rect x="199.40" y="12.20" width="59.50" height="48.40" fill="#fff" stroke="#222" stroke-width="1"/>
<clipPath id="lcL"><rect x="199.40" y="12.20" width="59.50" height="48.40"/></clipPath>
<g clip-path="url(#lcL)">
<line x1="200.40" y1="16.80" x2="214.20" y2="16.80" stroke="#F0B030" stroke-width="1.1"/>
<path d="M207.30,15.00L209.10,16.80L207.30,18.60L205.50,16.80Z" fill="#F0B030"/>
<text x="216.00" y="19.30" font-size="6.3" fill="#1a1a1a" font-family="'Liberation Sans', Arial, sans-serif" stroke="#1a1a1a" stroke-width="0.22">RT70HC</text>
<line x1="200.40" y1="24.60" x2="214.20" y2="24.60" stroke="#111111" stroke-width="1.1"/>
<rect x="206.45" y="23.75" width="1.70" height="1.70" fill="#111111"/>
<text x="216.00" y="27.10" font-size="6.3" fill="#1a1a1a" font-family="'Liberation Sans', Arial, sans-serif" stroke="#1a1a1a" stroke-width="0.22">EPDM</text>
<line x1="200.40" y1="32.40" x2="214.20" y2="32.40" stroke="#FF10FF" stroke-width="1.1"/>
<path d="M207.30,30.60L209.10,33.60L205.50,33.60Z" fill="#FF10FF"/>
<text x="216.00" y="34.90" font-size="6.3" fill="#1a1a1a" font-family="'Liberation Sans', Arial, sans-serif" stroke="#1a1a1a" stroke-width="0.22">EPDM<tspan dy="-0.9">_</tspan><tspan dy="0.9">H</tspan></text>
<line x1="200.40" y1="40.40" x2="214.20" y2="40.40" stroke="#10F010" stroke-width="1.1"/>
<path d="M207.30,42.20L209.10,39.20L205.50,39.20Z" fill="#10F010"/>
<text x="216.00" y="42.90" font-size="6.3" fill="#1a1a1a" font-family="'Liberation Sans', Arial, sans-serif" stroke="#1a1a1a" stroke-width="0.22">EPDM<tspan dy="-0.9">_</tspan><tspan dy="0.9">H</tspan><tspan dy="-0.9">_</tspan><tspan dy="0.9">P20</tspan></text>
<line x1="200.40" y1="48.20" x2="214.20" y2="48.20" stroke="#1010FF" stroke-width="1.1" stroke-dasharray="2.2,1.6"/>
<circle cx="207.30" cy="48.20" r="1.45" fill="#1010FF"/>
<text x="216.00" y="50.70" font-size="6.3" fill="#1a1a1a" font-family="'Liberation Sans', Arial, sans-serif" stroke="#1a1a1a" stroke-width="0.22">EPDM<tspan dy="-0.9">_</tspan><tspan dy="0.9">H</tspan><tspan dy="-0.9">_</tspan><tspan dy="0.9">P40</tspan></text>
<line x1="200.40" y1="56.00" x2="214.20" y2="56.00" stroke="#FF1010" stroke-width="1.1" stroke-opacity="0.72"/>
<circle cx="207.30" cy="56.00" r="1.45" fill="#FF1010"/>
<text x="216.00" y="58.50" font-size="6.3" fill="#1a1a1a" font-family="'Liberation Sans', Arial, sans-serif" stroke="#1a1a1a" stroke-width="0.22">EPDM<tspan dy="-0.9">_</tspan><tspan dy="0.9">H</tspan><tspan dy="-0.9">_</tspan><tspan dy="0.9">P60</tspan></text>
</g>
<text transform="translate(16.2,82.0) rotate(-90)" text-anchor="middle" font-size="8.85" fill="#1a1a1a" font-family="'Liberation Sans', Arial, sans-serif" stroke="#1a1a1a" stroke-width="0.22">Residual mass (%)</text>
<text transform="translate(18.0,239.35) rotate(-90)" text-anchor="middle" font-size="9.05" fill="#1a1a1a" font-family="'Liberation Sans', Arial, sans-serif" stroke="#1a1a1a" stroke-width="0.22">Derivative of mass loss (%/°C)</text>
<text x="155.1" y="340.6" text-anchor="middle" font-size="9.0" fill="#1a1a1a" font-family="'Liberation Sans', Arial, sans-serif" stroke="#1a1a1a" stroke-width="0.22">Temperature (°C)</text>
<text x="156.0" y="370.6" text-anchor="middle" font-size="13.8" font-weight="bold" fill="#111" font-family="'Liberation Serif', serif">(a)</text>
<clipPath id="ctR"><rect x="328.40" y="9.40" width="207.80" height="153.00"/></clipPath>
<clipPath id="cbR"><rect x="328.40" y="162.40" width="207.80" height="154.90"/></clipPath>
<rect x="328.40" y="9.40" width="207.80" height="153.00" fill="none" stroke="#000" stroke-width="1"/>
<rect x="328.40" y="162.40" width="207.80" height="153.40" fill="none" stroke="#000" stroke-width="1"/>
<line x1="328.40" y1="162.50" x2="536.20" y2="162.50" stroke="#000" stroke-width="1.4"/>
<line x1="328.40" y1="315.80" x2="536.20" y2="315.80" stroke="#000" stroke-width="1.4"/>
<line x1="328.40" y1="162.40" x2="330.90" y2="162.40" stroke="#000" stroke-width="0.9"/>
<line x1="328.40" y1="147.82" x2="329.90" y2="147.82" stroke="#000" stroke-width="0.9"/>
<line x1="328.40" y1="133.24" x2="330.90" y2="133.24" stroke="#000" stroke-width="0.9"/>
<line x1="328.40" y1="118.66" x2="329.90" y2="118.66" stroke="#000" stroke-width="0.9"/>
<line x1="328.40" y1="104.08" x2="330.90" y2="104.08" stroke="#000" stroke-width="0.9"/>
<line x1="328.40" y1="89.50" x2="329.90" y2="89.50" stroke="#000" stroke-width="0.9"/>
<line x1="328.40" y1="74.92" x2="330.90" y2="74.92" stroke="#000" stroke-width="0.9"/>
<line x1="328.40" y1="60.34" x2="329.90" y2="60.34" stroke="#000" stroke-width="0.9"/>
<line x1="328.40" y1="45.76" x2="330.90" y2="45.76" stroke="#000" stroke-width="0.9"/>
<line x1="328.40" y1="31.18" x2="329.90" y2="31.18" stroke="#000" stroke-width="0.9"/>
<line x1="328.40" y1="16.60" x2="330.90" y2="16.60" stroke="#000" stroke-width="0.9"/>
<line x1="328.40" y1="162.40" x2="328.40" y2="159.90" stroke="#000" stroke-width="0.9"/>
<line x1="343.24" y1="162.40" x2="343.24" y2="160.90" stroke="#000" stroke-width="0.9"/>
<line x1="358.09" y1="162.40" x2="358.09" y2="159.90" stroke="#000" stroke-width="0.9"/>
<line x1="372.93" y1="162.40" x2="372.93" y2="160.90" stroke="#000" stroke-width="0.9"/>
<line x1="387.77" y1="162.40" x2="387.77" y2="159.90" stroke="#000" stroke-width="0.9"/>
<line x1="402.61" y1="162.40" x2="402.61" y2="160.90" stroke="#000" stroke-width="0.9"/>
<line x1="417.46" y1="162.40" x2="417.46" y2="159.90" stroke="#000" stroke-width="0.9"/>
<line x1="432.30" y1="162.40" x2="432.30" y2="160.90" stroke="#000" stroke-width="0.9"/>
<line x1="447.14" y1="162.40" x2="447.14" y2="159.90" stroke="#000" stroke-width="0.9"/>
<line x1="461.99" y1="162.40" x2="461.99" y2="160.90" stroke="#000" stroke-width="0.9"/>
<line x1="476.83" y1="162.40" x2="476.83" y2="159.90" stroke="#000" stroke-width="0.9"/>
<line x1="491.67" y1="162.40" x2="491.67" y2="160.90" stroke="#000" stroke-width="0.9"/>
<line x1="506.51" y1="162.40" x2="506.51" y2="159.90" stroke="#000" stroke-width="0.9"/>
<line x1="521.36" y1="162.40" x2="521.36" y2="160.90" stroke="#000" stroke-width="0.9"/>
<line x1="536.20" y1="162.40" x2="536.20" y2="159.90" stroke="#000" stroke-width="0.9"/>
<line x1="328.40" y1="315.80" x2="325.90" y2="315.80" stroke="#000" stroke-width="0.9"/>
<line x1="328.40" y1="301.65" x2="326.90" y2="301.65" stroke="#000" stroke-width="0.9"/>
<line x1="328.40" y1="287.50" x2="325.90" y2="287.50" stroke="#000" stroke-width="0.9"/>
<line x1="328.40" y1="273.35" x2="326.90" y2="273.35" stroke="#000" stroke-width="0.9"/>
<line x1="328.40" y1="259.20" x2="325.90" y2="259.20" stroke="#000" stroke-width="0.9"/>
<line x1="328.40" y1="245.05" x2="326.90" y2="245.05" stroke="#000" stroke-width="0.9"/>
<line x1="328.40" y1="230.90" x2="325.90" y2="230.90" stroke="#000" stroke-width="0.9"/>
<line x1="328.40" y1="216.75" x2="326.90" y2="216.75" stroke="#000" stroke-width="0.9"/>
<line x1="328.40" y1="202.60" x2="325.90" y2="202.60" stroke="#000" stroke-width="0.9"/>
<line x1="328.40" y1="188.45" x2="326.90" y2="188.45" stroke="#000" stroke-width="0.9"/>
<line x1="328.40" y1="174.30" x2="325.90" y2="174.30" stroke="#000" stroke-width="0.9"/>
<line x1="328.40" y1="315.80" x2="328.40" y2="318.30" stroke="#000" stroke-width="0.9"/>
<line x1="343.24" y1="315.80" x2="343.24" y2="317.30" stroke="#000" stroke-width="0.9"/>
<line x1="358.09" y1="315.80" x2="358.09" y2="318.30" stroke="#000" stroke-width="0.9"/>
<line x1="372.93" y1="315.80" x2="372.93" y2="317.30" stroke="#000" stroke-width="0.9"/>
<line x1="387.77" y1="315.80" x2="387.77" y2="318.30" stroke="#000" stroke-width="0.9"/>
<line x1="402.61" y1="315.80" x2="402.61" y2="317.30" stroke="#000" stroke-width="0.9"/>
<line x1="417.46" y1="315.80" x2="417.46" y2="318.30" stroke="#000" stroke-width="0.9"/>
<line x1="432.30" y1="315.80" x2="432.30" y2="317.30" stroke="#000" stroke-width="0.9"/>
<line x1="447.14" y1="315.80" x2="447.14" y2="318.30" stroke="#000" stroke-width="0.9"/>
<line x1="461.99" y1="315.80" x2="461.99" y2="317.30" stroke="#000" stroke-width="0.9"/>
<line x1="476.83" y1="315.80" x2="476.83" y2="318.30" stroke="#000" stroke-width="0.9"/>
<line x1="491.67" y1="315.80" x2="491.67" y2="317.30" stroke="#000" stroke-width="0.9"/>
<line x1="506.51" y1="315.80" x2="506.51" y2="318.30" stroke="#000" stroke-width="0.9"/>
<line x1="521.36" y1="315.80" x2="521.36" y2="317.30" stroke="#000" stroke-width="0.9"/>
<line x1="536.20" y1="315.80" x2="536.20" y2="318.30" stroke="#000" stroke-width="0.9"/>
<text x="325.40" y="165.00" text-anchor="end" font-size="7.4" fill="#1a1a1a" font-family="'Liberation Sans', Arial, sans-serif" stroke="#1a1a1a" stroke-width="0.22">0</text>
<text x="325.40" y="135.84" text-anchor="end" font-size="7.4" fill="#1a1a1a" font-family="'Liberation Sans', Arial, sans-serif" stroke="#1a1a1a" stroke-width="0.22">20</text>
<text x="325.40" y="106.68" text-anchor="end" font-size="7.4" fill="#1a1a1a" font-family="'Liberation Sans', Arial, sans-serif" stroke="#1a1a1a" stroke-width="0.22">40</text>
<text x="325.40" y="77.52" text-anchor="end" font-size="7.4" fill="#1a1a1a" font-family="'Liberation Sans', Arial, sans-serif" stroke="#1a1a1a" stroke-width="0.22">60</text>
<text x="325.40" y="48.36" text-anchor="end" font-size="7.4" fill="#1a1a1a" font-family="'Liberation Sans', Arial, sans-serif" stroke="#1a1a1a" stroke-width="0.22">80</text>
<text x="325.40" y="19.20" text-anchor="end" font-size="7.4" fill="#1a1a1a" font-family="'Liberation Sans', Arial, sans-serif" stroke="#1a1a1a" stroke-width="0.22">100</text>
<text x="323.40" y="318.40" text-anchor="end" font-size="7.4" fill="#1a1a1a" font-family="'Liberation Sans', Arial, sans-serif" stroke="#1a1a1a" stroke-width="0.22">0.000</text>
<text x="323.40" y="290.10" text-anchor="end" font-size="7.4" fill="#1a1a1a" font-family="'Liberation Sans', Arial, sans-serif" stroke="#1a1a1a" stroke-width="0.22">0.005</text>
<text x="323.40" y="261.80" text-anchor="end" font-size="7.4" fill="#1a1a1a" font-family="'Liberation Sans', Arial, sans-serif" stroke="#1a1a1a" stroke-width="0.22">0.010</text>
<text x="323.40" y="233.50" text-anchor="end" font-size="7.4" fill="#1a1a1a" font-family="'Liberation Sans', Arial, sans-serif" stroke="#1a1a1a" stroke-width="0.22">0.015</text>
<text x="323.40" y="205.20" text-anchor="end" font-size="7.4" fill="#1a1a1a" font-family="'Liberation Sans', Arial, sans-serif" stroke="#1a1a1a" stroke-width="0.22">0.020</text>
<text x="323.40" y="176.90" text-anchor="end" font-size="7.4" fill="#1a1a1a" font-family="'Liberation Sans', Arial, sans-serif" stroke="#1a1a1a" stroke-width="0.22">0.025</text>
<text x="328.40" y="326.90" text-anchor="middle" font-size="7.4" fill="#1a1a1a" font-family="'Liberation Sans', Arial, sans-serif" stroke="#1a1a1a" stroke-width="0.22">0</text>
<text x="358.09" y="326.90" text-anchor="middle" font-size="7.4" fill="#1a1a1a" font-family="'Liberation Sans', Arial, sans-serif" stroke="#1a1a1a" stroke-width="0.22">100</text>
<text x="387.77" y="326.90" text-anchor="middle" font-size="7.4" fill="#1a1a1a" font-family="'Liberation Sans', Arial, sans-serif" stroke="#1a1a1a" stroke-width="0.22">200</text>
<text x="417.46" y="326.90" text-anchor="middle" font-size="7.4" fill="#1a1a1a" font-family="'Liberation Sans', Arial, sans-serif" stroke="#1a1a1a" stroke-width="0.22">300</text>
<text x="447.14" y="326.90" text-anchor="middle" font-size="7.4" fill="#1a1a1a" font-family="'Liberation Sans', Arial, sans-serif" stroke="#1a1a1a" stroke-width="0.22">400</text>
<text x="476.83" y="326.90" text-anchor="middle" font-size="7.4" fill="#1a1a1a" font-family="'Liberation Sans', Arial, sans-serif" stroke="#1a1a1a" stroke-width="0.22">500</text>
<text x="506.51" y="326.90" text-anchor="middle" font-size="7.4" fill="#1a1a1a" font-family="'Liberation Sans', Arial, sans-serif" stroke="#1a1a1a" stroke-width="0.22">600</text>
<text x="536.20" y="326.90" text-anchor="middle" font-size="7.4" fill="#1a1a1a" font-family="'Liberation Sans', Arial, sans-serif" stroke="#1a1a1a" stroke-width="0.22">700</text>
<g clip-path="url(#ctR)"><path d="M335.82,16.60 376.24,16.61 385.41,16.80 387.99,16.90 389.14,17.05 391.43,17.66 395.73,19.25 398.60,20.64 401.18,22.21 403.76,24.09 405.77,25.90 407.77,28.14 409.78,30.90 411.50,33.75 412.07,34.92 412.93,37.03 414.65,42.17 416.37,48.19 417.23,51.81 418.09,55.93 422.39,81.39 424.11,92.75 425.55,104.55 426.12,111.10 427.27,127.15 429.56,150.81 430.42,157.21 430.71,158.65 430.99,159.65 431.28,160.16 431.85,160.21 435.01,160.07 442.17,160.08 465.11,160.26 473.71,160.56 492.05,161.83 501.80,162.24 508.97,162.34 536.20,162.40" fill="none" stroke="#F0B030" stroke-width="1.15" stroke-linejoin="round"/>
<path d="M335.61,14.80L337.41,16.60L335.61,18.40L333.81,16.60Z" fill="#F0B030"/>
<path d="M344.01,14.80L345.81,16.60L344.01,18.40L342.21,16.60Z" fill="#F0B030"/>
<path d="M352.42,14.80L354.22,16.60L352.42,18.40L350.62,16.60Z" fill="#F0B030"/>
<path d="M360.82,14.80L362.62,16.60L360.82,18.40L359.02,16.60Z" fill="#F0B030"/>
<path d="M369.22,14.80L371.02,16.60L369.22,18.40L367.42,16.60Z" fill="#F0B030"/>
<path d="M377.62,14.83L379.42,16.63L377.62,18.43L375.82,16.63Z" fill="#F0B030"/>
<path d="M386.02,15.02L387.82,16.82L386.02,18.62L384.22,16.82Z" fill="#F0B030"/>
<path d="M394.42,16.93L396.22,18.73L394.42,20.53L392.62,18.73Z" fill="#F0B030"/>
<path d="M402.82,21.57L404.62,23.37L402.82,25.17L401.02,23.37Z" fill="#F0B030"/>
<path d="M411.22,31.45L413.02,33.25L411.22,35.05L409.42,33.25Z" fill="#F0B030"/>
<path d="M419.62,63.39L421.42,65.19L419.62,66.99L417.82,65.19Z" fill="#F0B030"/>
<path d="M428.03,133.41L429.83,135.21L428.03,137.01L426.23,135.21Z" fill="#F0B030"/>
<path d="M436.43,158.27L438.23,160.07L436.43,161.87L434.63,160.07Z" fill="#F0B030"/>
<path d="M444.83,158.29L446.63,160.09L444.83,161.89L443.03,160.09Z" fill="#F0B030"/>
<path d="M453.23,158.34L455.03,160.14L453.23,161.94L451.43,160.14Z" fill="#F0B030"/>
<path d="M461.63,158.41L463.43,160.21L461.63,162.01L459.83,160.21Z" fill="#F0B030"/>
<path d="M470.03,158.60L471.83,160.40L470.03,162.20L468.23,160.40Z" fill="#F0B030"/>
<path d="M478.43,159.05L480.23,160.85L478.43,162.65L476.63,160.85Z" fill="#F0B030"/>
<path d="M486.83,159.68L488.63,161.48L486.83,163.28L485.03,161.48Z" fill="#F0B030"/>
<path d="M495.23,160.91L496.31,161.99L495.23,163.07L494.15,161.99Z" fill="#F0B030"/>
<path d="M503.63,161.21L504.71,162.29L503.63,163.37L502.55,162.29Z" fill="#F0B030"/>
<path d="M512.04,161.27L513.12,162.35L512.04,163.43L510.96,162.35Z" fill="#F0B030"/>
<path d="M520.44,161.30L521.52,162.38L520.44,163.46L519.36,162.38Z" fill="#F0B030"/>
<path d="M528.84,161.32L529.92,162.40L528.84,163.48L527.76,162.40Z" fill="#F0B030"/>
<path d="M335.82,16.60 378.25,16.62 389.14,16.76 394.30,16.90 395.45,16.99 396.88,17.21 398.60,17.61 410.64,20.82 412.93,21.24 418.09,21.93 420.10,22.31 421.25,22.68 423.83,23.76 425.26,24.26 427.84,25.04 430.71,25.76 435.01,26.67 440.17,27.57 444.75,28.70 446.76,28.99 451.35,29.47 453.35,29.80 454.79,30.22 456.51,31.08 458.51,32.40 459.95,33.69 461.67,35.71 462.81,37.44 463.96,39.72 465.11,42.52 465.97,45.17 467.11,49.52 467.69,52.03 468.55,56.47 469.98,65.49 471.70,78.77 473.71,96.74 476.57,116.86 477.72,123.34 478.29,126.09 478.87,127.88 479.44,129.08 480.01,129.99 480.30,130.29 480.59,130.46 482.59,130.82 491.19,131.33 515.56,132.00 536.20,132.37" fill="none" stroke="#FF10FF" stroke-width="1.2" stroke-linejoin="round"/>
<path d="M335.61,14.80L337.41,17.80L333.81,17.80Z" fill="#FF10FF"/>
<path d="M344.01,14.80L345.81,17.80L342.21,17.80Z" fill="#FF10FF"/>
<path d="M352.42,14.80L354.22,17.80L350.62,17.80Z" fill="#FF10FF"/>
<path d="M360.82,14.80L362.62,17.80L359.02,17.80Z" fill="#FF10FF"/>
<path d="M369.22,14.80L371.02,17.80L367.42,17.80Z" fill="#FF10FF"/>
<path d="M377.62,14.81L379.42,17.81L375.82,17.81Z" fill="#FF10FF"/>
<path d="M386.02,14.91L387.82,17.91L384.22,17.91Z" fill="#FF10FF"/>
<path d="M394.42,15.10L396.22,18.10L392.62,18.10Z" fill="#FF10FF"/>
<path d="M402.82,16.96L404.62,19.96L401.02,19.96Z" fill="#FF10FF"/>
<path d="M411.22,19.14L413.02,22.14L409.42,22.14Z" fill="#FF10FF"/>
<path d="M419.62,20.41L421.42,23.41L417.82,23.41Z" fill="#FF10FF"/>
<path d="M428.03,23.29L429.83,26.29L426.23,26.29Z" fill="#FF10FF"/>
<path d="M436.43,25.12L438.23,28.12L434.63,28.12Z" fill="#FF10FF"/>
<path d="M444.83,26.91L446.63,29.91L443.03,29.91Z" fill="#FF10FF"/>
<path d="M453.23,27.97L455.03,30.97L451.43,30.97Z" fill="#FF10FF"/>
<path d="M461.63,33.86L463.43,36.86L459.83,36.86Z" fill="#FF10FF"/>
<path d="M470.03,64.04L471.83,67.04L468.23,67.04Z" fill="#FF10FF"/>
<path d="M478.43,124.82L480.23,127.82L476.63,127.82Z" fill="#FF10FF"/>
<path d="M486.83,129.32L488.63,132.32L485.03,132.32Z" fill="#FF10FF"/>
<path d="M495.23,129.68L497.03,132.68L493.43,132.68Z" fill="#FF10FF"/>
<path d="M503.63,129.91L505.43,132.91L501.83,132.91Z" fill="#FF10FF"/>
<path d="M512.04,130.12L513.84,133.12L510.24,133.12Z" fill="#FF10FF"/>
<path d="M520.44,130.31L522.24,133.31L518.64,133.31Z" fill="#FF10FF"/>
<path d="M528.84,130.47L530.64,133.47L527.04,133.47Z" fill="#FF10FF"/>
<path d="M335.82,16.60 378.53,16.61 395.45,16.80 397.74,17.04 402.90,17.83 410.64,18.85 416.66,19.41 430.42,20.43 435.29,21.02 439.59,21.78 442.17,22.13 445.61,22.52 452.49,23.13 453.93,23.35 455.07,23.67 456.51,24.25 458.23,25.13 459.66,26.09 461.09,27.39 462.24,28.75 463.10,30.27 464.25,32.99 465.39,36.38 465.97,38.58 466.83,42.59 467.69,47.97 469.12,58.82 470.27,68.81 471.99,85.72 473.42,98.61 474.85,110.43 476.57,123.63 477.15,127.59 477.43,128.91 478.01,130.82 478.29,131.56 478.58,132.05 478.87,132.25 479.73,132.49 481.16,132.65 504.95,132.77 536.20,132.80" fill="none" stroke="#111111" stroke-width="1.2" stroke-linejoin="round"/>
<rect x="334.76" y="15.75" width="1.70" height="1.70" fill="#111111"/>
<rect x="343.16" y="15.75" width="1.70" height="1.70" fill="#111111"/>
<rect x="351.57" y="15.75" width="1.70" height="1.70" fill="#111111"/>
<rect x="359.97" y="15.75" width="1.70" height="1.70" fill="#111111"/>
<rect x="368.37" y="15.75" width="1.70" height="1.70" fill="#111111"/>
<rect x="376.77" y="15.76" width="1.70" height="1.70" fill="#111111"/>
<rect x="385.17" y="15.80" width="1.70" height="1.70" fill="#111111"/>
<rect x="393.57" y="15.90" width="1.70" height="1.70" fill="#111111"/>
<rect x="401.97" y="16.97" width="1.70" height="1.70" fill="#111111"/>
<rect x="410.37" y="18.07" width="1.70" height="1.70" fill="#111111"/>
<rect x="418.77" y="18.78" width="1.70" height="1.70" fill="#111111"/>
<rect x="427.18" y="19.36" width="1.70" height="1.70" fill="#111111"/>
<rect x="435.58" y="20.36" width="1.70" height="1.70" fill="#111111"/>
<rect x="443.98" y="21.59" width="1.70" height="1.70" fill="#111111"/>
<rect x="452.38" y="22.38" width="1.70" height="1.70" fill="#111111"/>
<rect x="460.78" y="27.13" width="1.70" height="1.70" fill="#111111"/>
<rect x="469.18" y="65.83" width="1.70" height="1.70" fill="#111111"/>
<rect x="477.58" y="130.98" width="1.70" height="1.70" fill="#111111"/>
<rect x="485.98" y="131.84" width="1.70" height="1.70" fill="#111111"/>
<rect x="494.38" y="131.89" width="1.70" height="1.70" fill="#111111"/>
<rect x="502.78" y="131.92" width="1.70" height="1.70" fill="#111111"/>
<rect x="511.19" y="131.94" width="1.70" height="1.70" fill="#111111"/>
<rect x="519.59" y="131.95" width="1.70" height="1.70" fill="#111111"/>
<rect x="527.99" y="131.95" width="1.70" height="1.70" fill="#111111"/>
<path d="M335.82,16.60 373.66,16.60 380.25,16.67 388.28,16.93 389.71,17.17 391.43,17.66 395.45,19.12 398.60,20.61 402.33,22.82 404.05,23.98 405.48,25.09 408.35,27.69 411.50,31.04 412.65,32.51 416.09,37.43 418.67,40.22 420.67,42.10 422.39,43.52 425.26,45.59 427.27,46.89 428.70,47.64 429.85,48.09 435.58,49.44 444.47,52.53 446.76,53.11 452.21,54.27 455.07,55.08 457.94,56.16 459.66,56.94 460.81,57.56 461.95,58.34 463.10,59.33 463.96,60.38 464.53,61.27 465.39,62.88 466.25,64.84 467.11,67.20 467.40,68.31 469.12,77.84 471.13,87.58 472.27,93.82 473.42,101.03 475.43,115.33 476.86,123.93 477.72,128.13 479.15,134.12 479.73,135.85 480.01,136.18 481.16,136.63 482.59,136.88 494.35,137.29 513.27,137.65 536.20,137.76" fill="none" stroke="#10F010" stroke-width="1.2" stroke-linejoin="round"/>
<path d="M335.61,18.40L337.41,15.40L333.81,15.40Z" fill="#10F010"/>
<path d="M344.01,18.40L345.81,15.40L342.21,15.40Z" fill="#10F010"/>
<path d="M352.42,18.40L354.22,15.40L350.62,15.40Z" fill="#10F010"/>
<path d="M360.82,18.40L362.62,15.40L359.02,15.40Z" fill="#10F010"/>
<path d="M369.22,18.40L371.02,15.40L367.42,15.40Z" fill="#10F010"/>
<path d="M377.62,18.43L379.42,15.43L375.82,15.43Z" fill="#10F010"/>
<path d="M386.02,18.62L387.82,15.62L384.22,15.62Z" fill="#10F010"/>
<path d="M394.42,20.53L396.22,17.53L392.62,17.53Z" fill="#10F010"/>
<path d="M402.82,24.94L404.62,21.94L401.02,21.94Z" fill="#10F010"/>
<path d="M411.22,32.52L413.02,29.52L409.42,29.52Z" fill="#10F010"/>
<path d="M419.62,42.95L421.42,39.95L417.82,39.95Z" fill="#10F010"/>
<path d="M428.03,49.10L429.83,46.10L426.23,46.10Z" fill="#10F010"/>
<path d="M436.43,51.51L438.23,48.51L434.63,48.51Z" fill="#10F010"/>
<path d="M444.83,54.43L446.63,51.43L443.03,51.43Z" fill="#10F010"/>
<path d="M453.23,56.33L455.03,53.33L451.43,53.33Z" fill="#10F010"/>
<path d="M461.63,59.90L463.43,56.90L459.83,56.90Z" fill="#10F010"/>
<path d="M470.03,84.11L471.83,81.11L468.23,81.11Z" fill="#10F010"/>
<path d="M478.43,132.89L480.23,129.89L476.63,129.89Z" fill="#10F010"/>
<path d="M486.83,138.84L488.63,135.84L485.03,135.84Z" fill="#10F010"/>
<path d="M495.23,139.11L497.03,136.11L493.43,136.11Z" fill="#10F010"/>
<path d="M503.63,139.31L505.43,136.31L501.83,136.31Z" fill="#10F010"/>
<path d="M512.04,139.44L513.84,136.44L510.24,136.44Z" fill="#10F010"/>
<path d="M520.44,139.51L522.24,136.51L518.64,136.51Z" fill="#10F010"/>
<path d="M528.84,139.55L530.64,136.55L527.04,136.55Z" fill="#10F010"/>
<path d="M335.82,16.60 375.38,16.61 382.26,16.71 388.28,16.93 389.43,17.11 390.86,17.49 396.88,19.61 400.03,20.98 402.61,22.43 403.76,23.20 404.62,23.91 406.34,25.72 408.63,28.72 411.50,32.98 413.51,36.48 418.09,45.59 420.67,50.93 423.54,57.42 424.69,59.65 426.12,61.98 427.84,64.39 430.99,68.23 433.29,70.71 435.01,72.29 436.44,73.34 439.02,74.90 441.60,76.18 443.89,77.07 445.90,77.64 456.51,79.69 458.23,80.09 459.66,80.52 461.09,81.17 462.24,81.98 463.10,82.87 463.96,84.05 465.68,86.93 467.97,91.20 469.12,93.86 469.98,96.39 470.84,100.23 472.27,107.97 474.85,119.56 478.87,138.48 479.44,140.21 480.01,141.28 480.59,142.03 480.87,142.24 482.02,142.51 484.31,142.72 507.25,142.94 536.20,143.01" fill="none" stroke="#1010FF" stroke-width="1.2" stroke-linejoin="round"/>
<circle cx="335.61" cy="16.60" r="1.45" fill="#1010FF"/>
<circle cx="344.01" cy="16.60" r="1.45" fill="#1010FF"/>
<circle cx="352.42" cy="16.60" r="1.45" fill="#1010FF"/>
<circle cx="360.82" cy="16.60" r="1.45" fill="#1010FF"/>
<circle cx="369.22" cy="16.60" r="1.45" fill="#1010FF"/>
<circle cx="377.62" cy="16.63" r="1.45" fill="#1010FF"/>
<circle cx="386.02" cy="16.82" r="1.45" fill="#1010FF"/>
<circle cx="394.42" cy="18.72" r="1.45" fill="#1010FF"/>
<circle cx="402.82" cy="22.56" r="1.45" fill="#1010FF"/>
<circle cx="411.22" cy="32.56" r="1.45" fill="#1010FF"/>
<circle cx="419.62" cy="48.73" r="1.45" fill="#1010FF"/>
<circle cx="428.03" cy="64.63" r="1.45" fill="#1010FF"/>
<circle cx="436.43" cy="73.34" r="1.45" fill="#1010FF"/>
<circle cx="444.83" cy="77.36" r="1.45" fill="#1010FF"/>
<circle cx="453.23" cy="79.02" r="1.45" fill="#1010FF"/>
<circle cx="461.63" cy="81.52" r="1.45" fill="#1010FF"/>
<circle cx="470.03" cy="96.56" r="1.45" fill="#1010FF"/>
<circle cx="478.43" cy="136.53" r="1.45" fill="#1010FF"/>
<circle cx="486.83" cy="142.75" r="1.45" fill="#1010FF"/>
<circle cx="495.23" cy="142.85" r="1.45" fill="#1010FF"/>
<circle cx="503.63" cy="142.92" r="1.45" fill="#1010FF"/>
<circle cx="512.04" cy="142.97" r="1.45" fill="#1010FF"/>
<circle cx="520.44" cy="142.99" r="1.45" fill="#1010FF"/>
<circle cx="528.84" cy="143.01" r="1.45" fill="#1010FF"/>
<path d="M335.82,16.60 375.38,16.61 382.26,16.71 388.28,16.93 389.43,17.08 390.86,17.41 398.89,19.65 401.75,20.71 403.19,21.39 404.05,21.89 405.48,23.08 407.20,25.01 408.92,27.32 411.79,31.52 412.93,33.40 414.37,36.03 416.09,39.48 417.81,43.20 418.95,45.94 420.10,49.02 420.96,51.78 422.97,58.86 424.11,62.40 433.29,88.51 435.29,94.44 436.15,96.58 438.45,100.99 439.31,102.33 439.88,103.03 440.45,103.54 441.31,103.93 442.75,104.29 445.61,104.77 456.79,106.34 459.37,106.81 460.81,107.18 461.95,107.61 462.81,108.23 463.67,109.13 465.39,111.42 467.69,114.85 469.12,117.51 470.55,120.75 471.41,123.29 472.27,126.30 473.99,132.71 476.86,144.02 477.43,145.65 478.01,146.64 478.58,147.33 478.87,147.51 479.44,147.69 480.87,147.94 492.05,148.27 512.12,148.60 536.20,148.69" fill="none" stroke="#FF1010" stroke-width="1.2" stroke-linejoin="round"/>
<circle cx="335.61" cy="16.60" r="1.45" fill="#FF1010"/>
<circle cx="344.01" cy="16.60" r="1.45" fill="#FF1010"/>
<circle cx="352.42" cy="16.60" r="1.45" fill="#FF1010"/>
<circle cx="360.82" cy="16.60" r="1.45" fill="#FF1010"/>
<circle cx="369.22" cy="16.60" r="1.45" fill="#FF1010"/>
<circle cx="377.62" cy="16.63" r="1.45" fill="#FF1010"/>
<circle cx="386.02" cy="16.82" r="1.45" fill="#FF1010"/>
<circle cx="394.42" cy="18.41" r="1.45" fill="#FF1010"/>
<circle cx="402.82" cy="21.20" r="1.45" fill="#FF1010"/>
<circle cx="411.22" cy="30.67" r="1.45" fill="#FF1010"/>
<circle cx="419.62" cy="47.69" r="1.45" fill="#FF1010"/>
<circle cx="428.03" cy="73.45" r="1.45" fill="#FF1010"/>
<circle cx="436.43" cy="97.14" r="1.45" fill="#FF1010"/>
<circle cx="444.83" cy="104.64" r="1.45" fill="#FF1010"/>
<circle cx="453.23" cy="105.82" r="1.45" fill="#FF1010"/>
<circle cx="461.63" cy="107.46" r="1.45" fill="#FF1010"/>
<circle cx="470.03" cy="119.49" r="1.45" fill="#FF1010"/>
<circle cx="478.43" cy="147.19" r="1.45" fill="#FF1010"/>
<circle cx="486.83" cy="148.14" r="1.45" fill="#FF1010"/>
<circle cx="495.23" cy="148.34" r="1.45" fill="#FF1010"/>
<circle cx="503.63" cy="148.49" r="1.45" fill="#FF1010"/>
<circle cx="512.04" cy="148.60" r="1.45" fill="#FF1010"/>
<circle cx="520.44" cy="148.66" r="1.45" fill="#FF1010"/>
<circle cx="528.84" cy="148.69" r="1.45" fill="#FF1010"/></g>
<g clip-path="url(#cbR)"><path d="M335.82,315.23 374.23,315.23 380.83,314.99 382.83,314.86 384.27,314.65 386.85,314.02 391.15,312.70 394.01,311.55 396.88,310.15 399.46,308.53 402.04,306.58 404.91,304.15 405.77,303.29 406.63,302.27 407.49,300.96 408.63,298.46 409.78,295.22 410.93,291.46 419.53,251.31 428.41,192.59 433.00,309.24 433.29,314.15 435.29,315.23 461.95,315.23 473.99,314.11 482.88,314.68 494.63,315.80 536.20,315.80" fill="none" stroke="#F0B030" stroke-width="1.15" stroke-linejoin="round"/>
<path d="M335.61,313.79L337.05,315.23L335.61,316.67L334.17,315.23Z" fill="#F0B030"/>
<path d="M344.01,313.79L345.45,315.23L344.01,316.67L342.57,315.23Z" fill="#F0B030"/>
<path d="M352.42,313.79L353.86,315.23L352.42,316.67L350.98,315.23Z" fill="#F0B030"/>
<path d="M360.82,313.79L362.26,315.23L360.82,316.67L359.38,315.23Z" fill="#F0B030"/>
<path d="M369.22,313.79L370.66,315.23L369.22,316.67L367.78,315.23Z" fill="#F0B030"/>
<path d="M377.62,313.70L379.06,315.14L377.62,316.58L376.18,315.14Z" fill="#F0B030"/>
<path d="M386.02,312.81L387.46,314.25L386.02,315.69L384.58,314.25Z" fill="#F0B030"/>
<path d="M394.42,309.93L395.86,311.37L394.42,312.81L392.98,311.37Z" fill="#F0B030"/>
<path d="M402.82,304.50L404.26,305.94L402.82,307.38L401.38,305.94Z" fill="#F0B030"/>
<path d="M411.22,288.64L412.66,290.08L411.22,291.52L409.78,290.08Z" fill="#F0B030"/>
<path d="M419.62,249.25L421.06,250.69L419.62,252.13L418.18,250.69Z" fill="#F0B030"/>
<path d="M428.03,193.72L429.47,195.16L428.03,196.60L426.59,195.16Z" fill="#F0B030"/>
<path d="M436.43,313.79L437.87,315.23L436.43,316.67L434.99,315.23Z" fill="#F0B030"/>
<path d="M444.83,313.79L446.27,315.23L444.83,316.67L443.39,315.23Z" fill="#F0B030"/>
<path d="M453.23,313.79L454.67,315.23L453.23,316.67L451.79,315.23Z" fill="#F0B030"/>
<path d="M461.63,313.79L463.07,315.23L461.63,316.67L460.19,315.23Z" fill="#F0B030"/>
<path d="M470.03,313.03L471.47,314.47L470.03,315.91L468.59,314.47Z" fill="#F0B030"/>
<path d="M478.43,312.95L479.87,314.39L478.43,315.83L476.99,314.39Z" fill="#F0B030"/>
<path d="M486.83,313.62L488.27,315.06L486.83,316.50L485.39,315.06Z" fill="#F0B030"/>
<path d="M495.23,314.36L496.67,315.80L495.23,317.24L493.79,315.80Z" fill="#F0B030"/>
<path d="M503.63,314.36L505.07,315.80L503.63,317.24L502.19,315.80Z" fill="#F0B030"/>
<path d="M512.04,314.36L513.48,315.80L512.04,317.24L510.60,315.80Z" fill="#F0B030"/>
<path d="M520.44,314.36L521.88,315.80L520.44,317.24L519.00,315.80Z" fill="#F0B030"/>
<path d="M528.84,314.36L530.28,315.80L528.84,317.24L527.40,315.80Z" fill="#F0B030"/>
<path d="M335.82,315.23 388.28,315.23 404.62,314.67 447.33,314.67 449.05,314.42 450.77,313.80 452.78,312.69 454.79,311.21 456.22,309.98 456.79,309.30 457.65,307.89 458.51,306.05 459.66,302.98 460.81,299.25 461.67,295.98 462.24,292.96 463.10,287.07 463.96,279.93 466.54,255.39 467.11,249.16 468.83,227.92 469.69,219.12 470.84,210.84 471.41,207.32 471.99,205.03 472.27,204.56 472.56,204.71 472.85,205.68 473.13,207.34 473.71,212.06 474.57,220.83 475.14,229.58 478.01,283.08 478.87,296.51 479.44,301.86 480.30,307.91 480.87,310.90 481.45,312.74 482.02,313.59 482.88,314.57 483.74,315.14 484.31,315.23 536.20,315.23" fill="none" stroke="#111111" stroke-width="1.2" stroke-linejoin="round"/>
<rect x="334.93" y="314.55" width="1.36" height="1.36" fill="#111111"/>
<rect x="343.33" y="314.55" width="1.36" height="1.36" fill="#111111"/>
<rect x="351.74" y="314.55" width="1.36" height="1.36" fill="#111111"/>
<rect x="360.14" y="314.55" width="1.36" height="1.36" fill="#111111"/>
<rect x="368.54" y="314.55" width="1.36" height="1.36" fill="#111111"/>
<rect x="376.94" y="314.55" width="1.36" height="1.36" fill="#111111"/>
<rect x="385.34" y="314.55" width="1.36" height="1.36" fill="#111111"/>
<rect x="393.74" y="314.38" width="1.36" height="1.36" fill="#111111"/>
<rect x="402.14" y="314.02" width="1.36" height="1.36" fill="#111111"/>
<rect x="410.54" y="313.99" width="1.36" height="1.36" fill="#111111"/>
<rect x="418.94" y="313.99" width="1.36" height="1.36" fill="#111111"/>
<rect x="427.35" y="313.99" width="1.36" height="1.36" fill="#111111"/>
<rect x="435.75" y="313.99" width="1.36" height="1.36" fill="#111111"/>
<rect x="444.15" y="313.99" width="1.36" height="1.36" fill="#111111"/>
<rect x="452.55" y="311.71" width="1.36" height="1.36" fill="#111111"/>
<rect x="460.95" y="295.47" width="1.36" height="1.36" fill="#111111"/>
<rect x="469.35" y="215.87" width="1.36" height="1.36" fill="#111111"/>
<rect x="477.75" y="289.67" width="1.36" height="1.36" fill="#111111"/>
<rect x="486.15" y="314.55" width="1.36" height="1.36" fill="#111111"/>
<rect x="494.55" y="314.55" width="1.36" height="1.36" fill="#111111"/>
<rect x="502.95" y="314.55" width="1.36" height="1.36" fill="#111111"/>
<rect x="511.36" y="314.55" width="1.36" height="1.36" fill="#111111"/>
<rect x="519.76" y="314.55" width="1.36" height="1.36" fill="#111111"/>
<rect x="528.16" y="314.55" width="1.36" height="1.36" fill="#111111"/>
<path d="M335.82,315.23 353.88,315.15 374.52,314.89 392.58,314.57 404.05,314.17 411.21,313.72 417.23,313.00 418.67,312.63 421.53,311.48 422.68,311.27 423.25,311.30 424.11,311.50 427.55,312.90 430.99,313.63 433.29,313.99 435.01,314.10 447.33,314.10 448.77,313.90 450.49,313.31 452.21,312.40 453.93,311.24 455.93,309.67 456.79,308.88 457.94,307.48 459.09,305.65 460.23,303.34 461.38,300.53 462.24,297.98 462.81,295.44 463.67,290.25 464.53,283.78 467.11,261.31 467.97,252.23 469.41,234.87 470.27,226.34 470.84,222.64 471.70,219.08 472.56,216.43 472.85,215.92 473.13,215.65 473.42,215.76 473.71,216.72 473.99,218.42 474.85,226.15 475.43,232.82 477.43,270.70 478.58,289.17 479.44,300.37 480.01,304.74 480.87,309.60 481.45,311.96 481.73,312.79 482.02,313.36 482.88,314.12 484.03,314.82 484.89,315.13 485.75,315.23 536.20,315.23" fill="none" stroke="#FF10FF" stroke-width="1.2" stroke-linejoin="round"/>
<path d="M335.61,313.79L337.05,316.19L334.17,316.19Z" fill="#FF10FF"/>
<path d="M344.01,313.78L345.45,316.18L342.57,316.18Z" fill="#FF10FF"/>
<path d="M352.42,313.72L353.86,316.12L350.98,316.12Z" fill="#FF10FF"/>
<path d="M360.82,313.64L362.26,316.04L359.38,316.04Z" fill="#FF10FF"/>
<path d="M369.22,313.53L370.66,315.93L367.78,315.93Z" fill="#FF10FF"/>
<path d="M377.62,313.40L379.06,315.80L376.18,315.80Z" fill="#FF10FF"/>
<path d="M386.02,313.26L387.46,315.66L384.58,315.66Z" fill="#FF10FF"/>
<path d="M394.42,313.08L395.86,315.48L392.98,315.48Z" fill="#FF10FF"/>
<path d="M402.82,312.79L404.26,315.19L401.38,315.19Z" fill="#FF10FF"/>
<path d="M411.22,312.28L412.66,314.68L409.78,314.68Z" fill="#FF10FF"/>
<path d="M419.62,310.80L421.06,313.20L418.18,313.20Z" fill="#FF10FF"/>
<path d="M428.03,311.57L429.47,313.97L426.59,313.97Z" fill="#FF10FF"/>
<path d="M436.43,312.66L437.87,315.06L434.99,315.06Z" fill="#FF10FF"/>
<path d="M444.83,312.66L446.27,315.06L443.39,315.06Z" fill="#FF10FF"/>
<path d="M453.23,310.29L454.67,312.69L451.79,312.69Z" fill="#FF10FF"/>
<path d="M461.63,298.40L463.07,300.80L460.19,300.80Z" fill="#FF10FF"/>
<path d="M470.03,226.95L471.47,229.35L468.59,229.35Z" fill="#FF10FF"/>
<path d="M478.43,285.42L479.87,287.82L476.99,287.82Z" fill="#FF10FF"/>
<path d="M486.83,313.79L488.27,316.19L485.39,316.19Z" fill="#FF10FF"/>
<path d="M495.23,313.79L496.67,316.19L493.79,316.19Z" fill="#FF10FF"/>
<path d="M503.63,313.79L505.07,316.19L502.19,316.19Z" fill="#FF10FF"/>
<path d="M512.04,313.79L513.48,316.19L510.60,316.19Z" fill="#FF10FF"/>
<path d="M520.44,313.79L521.88,316.19L519.00,316.19Z" fill="#FF10FF"/>
<path d="M528.84,313.79L530.28,316.19L527.40,316.19Z" fill="#FF10FF"/>
<path d="M335.82,315.23 374.81,315.21 380.83,314.87 387.99,314.07 390.57,313.49 393.73,312.40 398.03,310.73 404.33,307.80 407.77,306.57 416.37,304.11 418.67,303.75 420.67,303.58 421.53,303.60 422.68,303.78 424.97,304.52 425.55,304.91 426.12,305.50 428.13,308.13 428.99,308.97 430.13,309.70 431.57,310.41 433.57,311.17 435.58,311.82 437.01,312.18 438.45,312.43 444.18,312.97 448.19,313.53 449.05,313.51 449.91,313.35 450.77,313.03 451.63,312.59 453.64,311.16 455.93,309.12 457.08,307.86 457.94,306.64 459.09,304.63 460.23,302.20 461.67,298.58 462.53,295.90 463.39,292.21 464.25,287.68 467.11,270.01 467.97,263.92 469.69,250.51 470.55,245.01 471.70,239.67 472.27,237.36 472.85,235.81 473.13,235.47 473.42,235.52 473.71,236.16 473.99,237.31 474.57,240.78 475.43,247.45 476.00,254.40 477.43,277.97 478.58,292.70 479.44,302.21 480.01,306.36 480.59,308.80 481.45,311.72 482.02,313.10 482.31,313.60 482.88,314.18 484.03,314.82 484.89,315.13 485.75,315.23 536.20,315.23" fill="none" stroke="#10F010" stroke-width="1.2" stroke-linejoin="round"/>
<path d="M335.61,316.67L337.05,314.27L334.17,314.27Z" fill="#10F010"/>
<path d="M344.01,316.67L345.45,314.27L342.57,314.27Z" fill="#10F010"/>
<path d="M352.42,316.67L353.86,314.27L350.98,314.27Z" fill="#10F010"/>
<path d="M360.82,316.67L362.26,314.27L359.38,314.27Z" fill="#10F010"/>
<path d="M369.22,316.67L370.66,314.27L367.78,314.27Z" fill="#10F010"/>
<path d="M377.62,316.54L379.06,314.14L376.18,314.14Z" fill="#10F010"/>
<path d="M386.02,315.76L387.46,313.36L384.58,313.36Z" fill="#10F010"/>
<path d="M394.42,313.58L395.86,311.18L392.98,311.18Z" fill="#10F010"/>
<path d="M402.82,309.91L404.26,307.51L401.38,307.51Z" fill="#10F010"/>
<path d="M411.22,306.98L412.66,304.58L409.78,304.58Z" fill="#10F010"/>
<path d="M419.62,305.08L421.06,302.68L418.18,302.68Z" fill="#10F010"/>
<path d="M428.03,309.45L429.47,307.05L426.59,307.05Z" fill="#10F010"/>
<path d="M436.43,313.49L437.87,311.09L434.99,311.09Z" fill="#10F010"/>
<path d="M444.83,314.50L446.27,312.10L443.39,312.10Z" fill="#10F010"/>
<path d="M453.23,312.93L454.67,310.53L451.79,310.53Z" fill="#10F010"/>
<path d="M461.63,300.12L463.07,297.72L460.19,297.72Z" fill="#10F010"/>
<path d="M470.03,249.62L471.47,247.22L468.59,247.22Z" fill="#10F010"/>
<path d="M478.43,292.28L479.87,289.88L476.99,289.88Z" fill="#10F010"/>
<path d="M486.83,316.67L488.27,314.27L485.39,314.27Z" fill="#10F010"/>
<path d="M495.23,316.67L496.67,314.27L493.79,314.27Z" fill="#10F010"/>
<path d="M503.63,316.67L505.07,314.27L502.19,314.27Z" fill="#10F010"/>
<path d="M512.04,316.67L513.48,314.27L510.60,314.27Z" fill="#10F010"/>
<path d="M520.44,316.67L521.88,314.27L519.00,314.27Z" fill="#10F010"/>
<path d="M528.84,316.67L530.28,314.27L527.40,314.27Z" fill="#10F010"/>
<path d="M335.82,315.23 375.38,315.20 379.11,315.01 383.12,314.66 387.99,314.07 389.71,313.70 391.72,313.02 394.30,311.89 397.17,310.44 398.89,309.32 402.33,306.62 404.05,305.13 413.79,295.77 415.23,294.49 416.09,293.85 418.67,292.17 419.81,291.68 420.67,291.58 421.25,291.66 421.82,291.84 422.97,292.43 425.26,294.00 426.41,295.01 427.55,296.24 429.27,298.27 432.71,303.29 435.01,306.16 436.44,307.69 438.16,309.01 441.60,310.91 445.04,312.54 447.05,313.66 447.91,314.00 448.48,314.10 453.35,314.09 454.21,313.94 455.07,313.63 456.22,312.99 457.37,312.16 459.09,310.64 459.66,309.95 460.23,309.04 461.09,307.29 461.95,305.13 462.81,302.63 463.67,299.78 464.53,295.54 467.40,276.27 469.69,263.78 470.55,259.61 471.41,256.52 471.99,255.35 472.85,254.49 473.42,254.03 473.99,253.71 474.57,253.55 474.85,253.61 475.14,254.43 475.43,256.03 476.86,267.91 478.87,281.80 479.44,287.04 480.59,300.71 480.87,303.32 481.45,307.17 482.02,310.40 482.59,312.59 483.17,313.67 484.03,314.81 484.60,315.19 484.89,315.23 536.20,315.23" fill="none" stroke="#1010FF" stroke-width="1.2" stroke-linejoin="round"/>
<circle cx="335.61" cy="315.23" r="1.16" fill="#1010FF"/>
<circle cx="344.01" cy="315.23" r="1.16" fill="#1010FF"/>
<circle cx="352.42" cy="315.23" r="1.16" fill="#1010FF"/>
<circle cx="360.82" cy="315.23" r="1.16" fill="#1010FF"/>
<circle cx="369.22" cy="315.23" r="1.16" fill="#1010FF"/>
<circle cx="377.62" cy="315.10" r="1.16" fill="#1010FF"/>
<circle cx="386.02" cy="314.33" r="1.16" fill="#1010FF"/>
<circle cx="394.42" cy="311.84" r="1.16" fill="#1010FF"/>
<circle cx="402.82" cy="306.20" r="1.16" fill="#1010FF"/>
<circle cx="411.22" cy="298.25" r="1.16" fill="#1010FF"/>
<circle cx="419.62" cy="291.74" r="1.16" fill="#1010FF"/>
<circle cx="428.03" cy="296.78" r="1.16" fill="#1010FF"/>
<circle cx="436.43" cy="307.68" r="1.16" fill="#1010FF"/>
<circle cx="444.83" cy="312.43" r="1.16" fill="#1010FF"/>
<circle cx="453.23" cy="314.10" r="1.16" fill="#1010FF"/>
<circle cx="461.63" cy="305.99" r="1.16" fill="#1010FF"/>
<circle cx="470.03" cy="262.06" r="1.16" fill="#1010FF"/>
<circle cx="478.43" cy="278.49" r="1.16" fill="#1010FF"/>
<circle cx="486.83" cy="315.23" r="1.16" fill="#1010FF"/>
<circle cx="495.23" cy="315.23" r="1.16" fill="#1010FF"/>
<circle cx="503.63" cy="315.23" r="1.16" fill="#1010FF"/>
<circle cx="512.04" cy="315.23" r="1.16" fill="#1010FF"/>
<circle cx="520.44" cy="315.23" r="1.16" fill="#1010FF"/>
<circle cx="528.84" cy="315.23" r="1.16" fill="#1010FF"/>
<path d="M335.82,315.23 373.09,315.23 376.24,315.17 381.69,314.80 387.99,314.07 390.00,313.62 392.01,312.93 395.45,311.35 396.88,310.59 398.03,309.85 400.32,307.96 405.77,302.97 408.92,299.74 411.79,296.42 413.51,294.03 418.38,286.65 421.25,282.92 422.39,281.54 423.54,280.45 425.26,279.38 426.41,278.83 426.98,278.67 427.55,278.61 428.13,278.77 428.99,279.48 429.85,280.53 431.28,282.52 432.14,284.10 434.15,288.19 435.87,291.09 436.73,292.69 437.30,293.99 437.87,295.59 439.88,302.10 441.89,307.80 442.75,309.90 443.32,310.94 443.61,311.30 444.47,312.21 445.33,312.98 446.19,313.53 446.76,313.75 448.77,313.93 451.92,314.07 454.50,314.10 455.36,313.98 456.22,313.61 457.08,313.01 457.94,312.22 458.80,311.29 460.23,309.47 461.67,307.46 462.81,305.12 464.25,301.20 465.97,295.68 466.83,292.23 469.12,281.94 471.13,273.89 471.70,272.36 472.27,271.47 472.85,270.79 473.13,270.59 473.42,270.52 473.71,270.77 473.99,271.42 474.28,272.38 474.85,274.84 475.14,276.50 477.43,296.98 478.58,305.37 479.15,308.98 479.44,310.39 480.01,312.29 480.59,313.75 480.87,314.27 481.16,314.60 482.59,315.06 484.03,315.23 536.20,315.23" fill="none" stroke="#FF1010" stroke-width="1.2" stroke-linejoin="round"/>
<circle cx="335.61" cy="315.23" r="1.16" fill="#FF1010"/>
<circle cx="344.01" cy="315.23" r="1.16" fill="#FF1010"/>
<circle cx="352.42" cy="315.23" r="1.16" fill="#FF1010"/>
<circle cx="360.82" cy="315.23" r="1.16" fill="#FF1010"/>
<circle cx="369.22" cy="315.23" r="1.16" fill="#FF1010"/>
<circle cx="377.62" cy="315.10" r="1.16" fill="#FF1010"/>
<circle cx="386.02" cy="314.33" r="1.16" fill="#FF1010"/>
<circle cx="394.42" cy="311.86" r="1.16" fill="#FF1010"/>
<circle cx="402.82" cy="305.71" r="1.16" fill="#FF1010"/>
<circle cx="411.22" cy="297.12" r="1.16" fill="#FF1010"/>
<circle cx="419.62" cy="285.01" r="1.16" fill="#FF1010"/>
<circle cx="428.03" cy="278.72" r="1.16" fill="#FF1010"/>
<circle cx="436.43" cy="292.10" r="1.16" fill="#FF1010"/>
<circle cx="444.83" cy="312.55" r="1.16" fill="#FF1010"/>
<circle cx="453.23" cy="314.09" r="1.16" fill="#FF1010"/>
<circle cx="461.63" cy="307.52" r="1.16" fill="#FF1010"/>
<circle cx="470.03" cy="278.27" r="1.16" fill="#FF1010"/>
<circle cx="478.43" cy="304.33" r="1.16" fill="#FF1010"/>
<circle cx="486.83" cy="315.23" r="1.16" fill="#FF1010"/>
<circle cx="495.23" cy="315.23" r="1.16" fill="#FF1010"/>
<circle cx="503.63" cy="315.23" r="1.16" fill="#FF1010"/>
<circle cx="512.04" cy="315.23" r="1.16" fill="#FF1010"/>
<circle cx="520.44" cy="315.23" r="1.16" fill="#FF1010"/>
<circle cx="528.84" cy="315.23" r="1.16" fill="#FF1010"/></g>
<line x1="328.40" y1="162.50" x2="536.20" y2="162.50" stroke="#000" stroke-width="1.25"/>
<rect x="472.10" y="12.20" width="63.80" height="48.40" fill="#fff" stroke="#222" stroke-width="1"/>
<clipPath id="lcR"><rect x="472.10" y="12.20" width="63.80" height="48.40"/></clipPath>
<g clip-path="url(#lcR)">
<line x1="472.80" y1="16.80" x2="487.30" y2="16.80" stroke="#F0B030" stroke-width="1.1"/>
<path d="M480.05,15.00L481.85,16.80L480.05,18.60L478.25,16.80Z" fill="#F0B030"/>
<text x="489.00" y="19.30" font-size="6.3" fill="#1a1a1a" font-family="'Liberation Sans', Arial, sans-serif" stroke="#1a1a1a" stroke-width="0.22">RT70HC</text>
<line x1="472.80" y1="24.60" x2="487.30" y2="24.60" stroke="#111111" stroke-width="1.1"/>
<rect x="479.20" y="23.75" width="1.70" height="1.70" fill="#111111"/>
<text x="489.00" y="27.10" font-size="6.3" fill="#1a1a1a" font-family="'Liberation Sans', Arial, sans-serif" stroke="#1a1a1a" stroke-width="0.22">EPDM</text>
<line x1="472.80" y1="32.40" x2="487.30" y2="32.40" stroke="#FF10FF" stroke-width="1.1"/>
<path d="M480.05,30.60L481.85,33.60L478.25,33.60Z" fill="#FF10FF"/>
<text x="489.00" y="34.90" font-size="6.3" fill="#1a1a1a" font-family="'Liberation Sans', Arial, sans-serif" stroke="#1a1a1a" stroke-width="0.22">EPDM<tspan dy="-0.9">_</tspan><tspan dy="0.9">MP</tspan></text>
<line x1="472.80" y1="40.40" x2="487.30" y2="40.40" stroke="#10F010" stroke-width="1.1"/>
<path d="M480.05,42.20L481.85,39.20L478.25,39.20Z" fill="#10F010"/>
<text x="489.00" y="42.90" font-size="6.3" fill="#1a1a1a" font-family="'Liberation Sans', Arial, sans-serif" stroke="#1a1a1a" stroke-width="0.22">EPDM<tspan dy="-0.9">_</tspan><tspan dy="0.9">MP</tspan><tspan dy="-0.9">_</tspan><tspan dy="0.9">P20</tspan></text>
<line x1="472.80" y1="48.20" x2="487.30" y2="48.20" stroke="#1010FF" stroke-width="1.1"/>
<circle cx="480.05" cy="48.20" r="1.45" fill="#1010FF"/>
<text x="489.00" y="50.70" font-size="6.3" fill="#1a1a1a" font-family="'Liberation Sans', Arial, sans-serif" stroke="#1a1a1a" stroke-width="0.22">EPDM<tspan dy="-0.9">_</tspan><tspan dy="0.9">MP</tspan><tspan dy="-0.9">_</tspan><tspan dy="0.9">P40</tspan></text>
<line x1="472.80" y1="56.00" x2="487.30" y2="56.00" stroke="#FF1010" stroke-width="1.1" stroke-opacity="0.72"/>
<circle cx="480.05" cy="56.00" r="1.45" fill="#FF1010"/>
<text x="489.00" y="58.50" font-size="6.3" fill="#1a1a1a" font-family="'Liberation Sans', Arial, sans-serif" stroke="#1a1a1a" stroke-width="0.22">EPDM<tspan dy="-0.9">_</tspan><tspan dy="0.9">MP</tspan><tspan dy="-0.9">_</tspan><tspan dy="0.9">P60</tspan></text>
</g>
<text transform="translate(294.9,82.3) rotate(-90)" text-anchor="middle" font-size="8.95" fill="#1a1a1a" font-family="'Liberation Sans', Arial, sans-serif" stroke="#1a1a1a" stroke-width="0.22">Residual mass (%)</text>
<text transform="translate(295.9,233.2) rotate(-90)" text-anchor="middle" font-size="9.0" fill="#1a1a1a" font-family="'Liberation Sans', Arial, sans-serif" stroke="#1a1a1a" stroke-width="0.22">Derivative of mass loss (%/°C)</text>
<text x="432.6" y="339.3" text-anchor="middle" font-size="7.6" fill="#1a1a1a" font-family="'Liberation Sans', Arial, sans-serif" stroke="#1a1a1a" stroke-width="0.22">Temperature (°C)</text>
<text x="435.4" y="370.6" text-anchor="middle" font-size="13.8" font-weight="bold" fill="#111" font-family="'Liberation Serif', serif">(b)</text>
</svg>
</body></html>
